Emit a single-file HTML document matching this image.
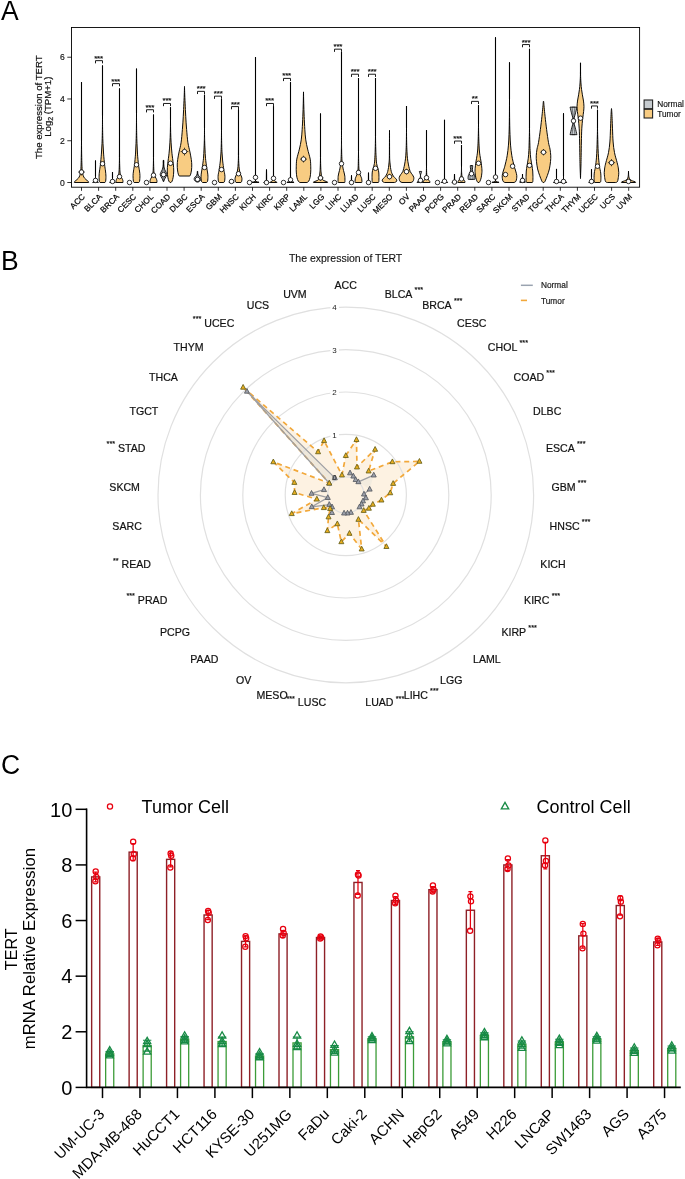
<!DOCTYPE html>
<html lang="en">
<head>
<meta charset="utf-8">
<title>TERT expression figure</title>
<style>
html,body{margin:0;padding:0;background:#fff;}
body{width:685px;height:1179px;overflow:hidden;font-family:"Liberation Sans",Arial,sans-serif;}
svg{display:block;}
svg text{font-family:"Liberation Sans",Arial,sans-serif;}
</style>
</head>
<body>
<svg width="685" height="1179" viewBox="0 0 685 1179">
<rect x="0" y="0" width="685" height="1179" fill="#ffffff"/>
<g id="panelA">
<text transform="translate(0.9 20) scale(0.94 1)" font-size="28.2" fill="#000">A</text>
<path d="M88.6 182.5C88.58 182.37 88.76 182 88.5 181.66C88.24 181.33 87.6 180.95 87 180.41C86.4 179.88 85.32 179.06 84.72 178.32C84.13 177.59 83.64 176.82 83.28 175.82C82.91 174.82 82.65 173.5 82.44 172.06C82.24 170.62 82.11 169.18 82 166.84C81.88 164.5 81.8 161.62 81.72 157.44C81.64 153.27 81.53 146.75 81.5 140.74C81.47 134.73 81.5 129.21 81.5 119.86C81.5 110.51 81.5 88.29 81.5 82.28L81.5 82.28C81.5 88.29 81.5 110.51 81.5 119.86C81.5 129.21 81.53 134.73 81.5 140.74C81.47 146.75 81.36 153.27 81.28 157.44C81.2 161.62 81.12 164.5 81 166.84C80.89 169.18 80.76 170.62 80.56 172.06C80.35 173.5 80.09 174.82 79.72 175.82C79.36 176.82 78.87 177.59 78.28 178.32C77.68 179.06 76.6 179.88 76 180.41C75.4 180.95 74.76 181.33 74.5 181.66C74.24 182 74.42 182.37 74.4 182.5Z" fill="#F8CC82" stroke="#000" stroke-width="0.95" stroke-linejoin="round"/>
<path d="M81.5 82.28V140.74" stroke="#000" stroke-width="1.1" fill="none"/>
<path d="M78.1 172.06H84.9M81.5 168.66V175.46" stroke="#000" stroke-width="0.7" fill="none"/>
<circle cx="81.5" cy="172.06" r="2.25" fill="#fff" stroke="#000" stroke-width="0.8"/>
<path d="M98.39 182.5C98.32 182.4 98.26 182.21 97.94 181.87C97.62 181.54 96.74 180.91 96.39 180.41C96.03 179.91 95.86 179.41 95.72 178.74C95.58 178.07 95.53 179.14 95.5 176.24C95.47 173.33 95.5 163.08 95.5 160.58L95.5 160.58C95.5 163.08 95.53 173.33 95.5 176.24C95.47 179.14 95.42 178.07 95.28 178.74C95.14 179.41 94.97 179.91 94.61 180.41C94.26 180.91 93.38 181.54 93.06 181.87C92.74 182.21 92.68 182.4 92.61 182.5Z" fill="#fff" stroke="#000" stroke-width="0.85" stroke-linejoin="round"/>
<path d="M95.5 160.58V176.24" stroke="#000" stroke-width="1.1" fill="none"/>
<path d="M104.94 182.5C105.06 182.27 105.51 182.04 105.67 181.04C105.83 180.04 105.97 177.84 105.94 176.24C105.92 174.63 105.71 172.85 105.5 171.02C105.29 169.18 104.91 167.46 104.61 164.75C104.31 162.05 103.87 157.48 103.61 154.1C103.35 150.73 103.15 147.14 103 143.66C102.84 140.19 102.74 136.86 102.66 132.39C102.58 127.91 102.53 126.37 102.5 115.68C102.47 104.99 102.5 73.59 102.5 65.57L102.5 65.57C102.5 73.59 102.53 104.99 102.5 115.68C102.47 126.37 102.42 127.91 102.34 132.39C102.26 136.86 102.16 140.19 102 143.66C101.85 147.14 101.65 150.73 101.39 154.1C101.13 157.48 100.69 162.05 100.39 164.75C100.09 167.46 99.71 169.18 99.5 171.02C99.29 172.85 99.08 174.63 99.06 176.24C99.03 177.84 99.17 180.04 99.33 181.04C99.49 182.04 99.94 182.27 100.06 182.5Z" fill="#F8CC82" stroke="#000" stroke-width="0.95" stroke-linejoin="round"/>
<path d="M102.5 65.57V115.68" stroke="#000" stroke-width="1.1" fill="none"/>
<circle cx="95.5" cy="180.41" r="2.25" fill="#fff" stroke="#000" stroke-width="0.8"/>
<circle cx="102.5" cy="163.71" r="2.25" fill="#fff" stroke="#000" stroke-width="0.8"/>
<path d="M95.5 63.35V60.65H102.5V63.35" fill="none" stroke="#1a1a1a" stroke-width="1"/>
<text x="98.5" y="60.65" font-size="8" text-anchor="middle" fill="#111" stroke="#111" stroke-width="0.2" letter-spacing="-0.2">***</text>
<path d="M115.39 182.5C115.3 182.4 115.21 182.14 114.83 181.87C114.46 181.61 113.42 181.4 113.05 180.83C112.68 180.26 112.59 179.73 112.5 178.32C112.41 176.92 112.5 173.06 112.5 172.06L112.5 172.06C112.5 173.06 112.59 176.92 112.5 178.32C112.41 179.73 112.32 180.26 111.95 180.83C111.58 181.4 110.54 181.61 110.17 181.87C109.79 182.14 109.7 182.4 109.61 182.5Z" fill="#fff" stroke="#000" stroke-width="0.85" stroke-linejoin="round"/>
<path d="M112.5 172.06V178.32" stroke="#000" stroke-width="1.1" fill="none"/>
<path d="M122.94 182.5C122.93 182.17 123.05 181.08 122.89 180.41C122.73 179.74 122.29 178.99 121.94 178.32C121.6 177.66 121.01 177.07 120.72 176.24C120.43 175.4 120.26 174.44 120.11 173.1C119.96 171.77 119.86 170.39 119.77 167.88C119.68 165.38 119.59 162.46 119.55 157.44C119.51 152.43 119.51 147.59 119.5 136.56C119.49 125.54 119.5 96.22 119.5 88.54L119.5 88.54C119.5 96.22 119.51 125.54 119.5 136.56C119.49 147.59 119.49 152.43 119.45 157.44C119.41 162.46 119.32 165.38 119.23 167.88C119.14 170.39 119.04 171.77 118.89 173.1C118.74 174.44 118.57 175.4 118.28 176.24C117.99 177.07 117.4 177.66 117.06 178.32C116.71 178.99 116.27 179.74 116.11 180.41C115.95 181.08 116.07 182.17 116.06 182.5Z" fill="#F8CC82" stroke="#000" stroke-width="0.95" stroke-linejoin="round"/>
<path d="M119.5 88.54V157.44" stroke="#000" stroke-width="1.1" fill="none"/>
<circle cx="112.5" cy="181.46" r="2.25" fill="#fff" stroke="#000" stroke-width="0.8"/>
<circle cx="119.5" cy="176.65" r="2.25" fill="#fff" stroke="#000" stroke-width="0.8"/>
<path d="M112.5 86.32V83.62H119.5V86.32" fill="none" stroke="#1a1a1a" stroke-width="1"/>
<text x="115.6" y="83.62" font-size="8" text-anchor="middle" fill="#111" stroke="#111" stroke-width="0.2" letter-spacing="-0.2">***</text>
<path d="M138.83 182.5C138.96 182.27 139.43 182.14 139.61 181.04C139.79 179.94 139.96 177.21 139.94 175.61C139.93 174.01 139.73 172.75 139.5 171.02C139.27 169.28 138.82 167.46 138.5 164.75C138.18 162.05 137.74 157.48 137.5 154.1C137.26 150.73 137.13 147.14 137 143.66C136.86 140.19 136.74 137.2 136.66 132.39C136.58 127.58 136.53 123.79 136.5 113.6C136.47 103.41 136.5 75.89 136.5 68.7L136.5 68.7C136.5 75.89 136.53 103.41 136.5 113.6C136.47 123.79 136.42 127.58 136.34 132.39C136.26 137.2 136.14 140.19 136 143.66C135.87 147.14 135.74 150.73 135.5 154.1C135.26 157.48 134.82 162.05 134.5 164.75C134.18 167.46 133.73 169.28 133.5 171.02C133.27 172.75 133.07 174.01 133.06 175.61C133.04 177.21 133.21 179.94 133.39 181.04C133.57 182.14 134.04 182.27 134.17 182.5Z" fill="#F8CC82" stroke="#000" stroke-width="0.95" stroke-linejoin="round"/>
<path d="M136.5 68.7V113.6" stroke="#000" stroke-width="1.1" fill="none"/>
<circle cx="129.5" cy="182.5" r="2.25" fill="#fff" stroke="#000" stroke-width="0.8"/>
<circle cx="136.5" cy="164.75" r="2.25" fill="#fff" stroke="#000" stroke-width="0.8"/>
<path d="M156.94 182.5C156.93 182.17 157.03 181.08 156.89 180.41C156.75 179.74 156.38 178.99 156.05 178.32C155.72 177.66 155.13 176.97 154.83 176.24C154.53 175.5 154.33 174.9 154.16 173.73C153.99 172.56 153.88 171.53 153.77 168.93C153.67 166.32 153.56 161.95 153.52 157.44C153.47 152.93 153.5 147.59 153.5 140.74C153.5 133.89 153.5 118.82 153.5 114.64L153.5 114.64C153.5 118.82 153.5 133.89 153.5 140.74C153.5 147.59 153.53 152.93 153.48 157.44C153.44 161.95 153.33 166.32 153.23 168.93C153.12 171.53 153.01 172.56 152.84 173.73C152.67 174.9 152.47 175.5 152.17 176.24C151.87 176.97 151.28 177.66 150.95 178.32C150.62 178.99 150.25 179.74 150.11 180.41C149.97 181.08 150.07 182.17 150.06 182.5Z" fill="#F8CC82" stroke="#000" stroke-width="0.95" stroke-linejoin="round"/>
<path d="M153.5 114.64V157.44" stroke="#000" stroke-width="1.1" fill="none"/>
<circle cx="146.5" cy="182.5" r="2.25" fill="#fff" stroke="#000" stroke-width="0.8"/>
<circle cx="153.5" cy="175.19" r="2.25" fill="#fff" stroke="#000" stroke-width="0.8"/>
<path d="M146.5 112.42V109.72H153.5V112.42" fill="none" stroke="#1a1a1a" stroke-width="1"/>
<text x="149.8" y="109.72" font-size="8" text-anchor="middle" fill="#111" stroke="#111" stroke-width="0.2" letter-spacing="-0.2">***</text>
<path d="M163.5 181.46C163.75 180.95 164.52 179.39 165.05 178.32C165.59 177.25 166.69 175.78 166.83 174.77C166.97 173.77 166.28 172.9 165.94 172.06C165.6 171.22 165.06 170.39 164.72 169.55C164.38 168.72 164.02 167.78 163.83 166.84C163.63 165.9 163.55 164.74 163.5 163.71C163.45 162.67 163.5 160.9 163.5 160.37L163.5 160.37C163.5 160.9 163.55 162.67 163.5 163.71C163.45 164.74 163.37 165.9 163.17 166.84C162.98 167.78 162.62 168.72 162.28 169.55C161.94 170.39 161.4 171.22 161.06 172.06C160.72 172.9 160.03 173.77 160.17 174.77C160.31 175.78 161.41 177.25 161.95 178.32C162.48 179.39 163.25 180.95 163.5 181.46Z" fill="#C6CBCF" stroke="#000" stroke-width="0.85" stroke-linejoin="round"/>
<path d="M163.5 160.37V163.71" stroke="#000" stroke-width="1.1" fill="none"/>
<path d="M164 181.46C164 180.95 163.9 179.39 164.05 178.32C164.2 177.25 164.87 175.78 164.94 174.77C165.01 173.77 164.65 172.9 164.5 172.06C164.34 171.22 164.08 170.39 164 169.55C163.92 168.72 164 167.78 164 166.84C164 165.9 164 164.74 164 163.71C164 162.67 164 160.9 164 160.37L163 160.37C163 160.9 163 162.67 163 163.71C163 164.74 163 165.9 163 166.84C163 167.78 163.08 168.72 163 169.55C162.92 170.39 162.66 171.22 162.5 172.06C162.35 172.9 161.99 173.77 162.06 174.77C162.13 175.78 162.8 177.25 162.95 178.32C163.1 179.39 163 180.95 163 181.46Z" fill="none" stroke="#000" stroke-width="0.45" stroke-linejoin="round"/>
<path d="M170.94 182.5C171.12 182.3 171.7 182.08 172.05 181.25C172.41 180.41 172.9 178.92 173.16 177.28C173.43 175.64 173.7 173.19 173.72 171.02C173.74 168.84 173.56 166.55 173.28 163.71C172.99 160.87 172.29 156.61 171.94 153.27C171.59 149.93 171.31 146.17 171.11 142.83C170.9 139.49 170.76 136.06 170.66 132.39C170.56 128.71 170.53 123.87 170.5 119.86C170.47 115.85 170.5 109.34 170.5 107.33L170.5 107.33C170.5 109.34 170.53 115.85 170.5 119.86C170.47 123.87 170.44 128.71 170.34 132.39C170.24 136.06 170.1 139.49 169.89 142.83C169.69 146.17 169.41 149.93 169.06 153.27C168.71 156.61 168.01 160.87 167.72 163.71C167.44 166.55 167.26 168.84 167.28 171.02C167.3 173.19 167.57 175.64 167.84 177.28C168.1 178.92 168.59 180.41 168.95 181.25C169.3 182.08 169.88 182.3 170.06 182.5Z" fill="#F8CC82" stroke="#000" stroke-width="0.95" stroke-linejoin="round"/>
<path d="M170.5 107.33V119.86" stroke="#000" stroke-width="1.1" fill="none"/>
<circle cx="163.5" cy="174.57" r="2.25" fill="#fff" stroke="#000" stroke-width="0.8"/>
<circle cx="170.5" cy="163.29" r="2.25" fill="#fff" stroke="#000" stroke-width="0.8"/>
<path d="M163.5 106.16V103.46H170.5V106.16" fill="none" stroke="#1a1a1a" stroke-width="1"/>
<text x="166.9" y="103.46" font-size="8" text-anchor="middle" fill="#111" stroke="#111" stroke-width="0.2" letter-spacing="-0.2">***</text>
<path d="M189.8 176.03C189.94 175.73 190.43 175.12 190.7 174.15C190.97 173.18 191.33 171.44 191.5 169.97C191.67 168.5 191.78 166.63 191.75 164.96C191.72 163.29 191.6 161.64 191.3 159.53C191 157.43 190.44 154.48 189.9 151.81C189.36 149.13 188.47 146.4 187.94 142.83C187.42 139.25 186.96 133.71 186.61 129.46C186.25 125.22 185.96 120.52 185.72 116.31C185.48 112.1 185.28 106.93 185.11 103.16C184.94 99.38 184.76 95.39 184.66 92.72C184.56 90.04 184.53 87.45 184.5 86.45L184.5 86.45C184.47 87.45 184.44 90.04 184.34 92.72C184.24 95.39 184.06 99.38 183.89 103.16C183.72 106.93 183.52 112.1 183.28 116.31C183.04 120.52 182.75 125.22 182.39 129.46C182.04 133.71 181.58 139.25 181.06 142.83C180.53 146.4 179.64 149.13 179.1 151.81C178.56 154.48 178 157.43 177.7 159.53C177.4 161.64 177.28 163.29 177.25 164.96C177.22 166.63 177.33 168.5 177.5 169.97C177.67 171.44 178.03 173.18 178.3 174.15C178.57 175.12 179.06 175.73 179.2 176.03Z" fill="#F8CC82" stroke="#000" stroke-width="0.95" stroke-linejoin="round"/>
<path d="M180.6 151.6H188.4M184.5 147.7V155.5" stroke="#000" stroke-width="0.7" fill="none"/>
<circle cx="184.5" cy="151.6" r="2.25" fill="#fff" stroke="#000" stroke-width="0.8"/>
<path d="M198.83 181.87C199.08 181.64 200.07 180.91 200.39 180.41C200.71 179.91 200.9 179.31 200.83 178.74C200.76 178.17 200.33 177.4 199.94 176.86C199.55 176.33 198.76 175.9 198.38 175.4C198.01 174.9 197.75 174.37 197.61 173.73C197.46 173.1 197.52 171.8 197.5 171.43L197.5 171.43C197.48 171.8 197.54 173.1 197.39 173.73C197.25 174.37 196.99 174.9 196.62 175.4C196.24 175.9 195.45 176.33 195.06 176.86C194.67 177.4 194.24 178.17 194.17 178.74C194.1 179.31 194.29 179.91 194.61 180.41C194.93 180.91 195.92 181.64 196.17 181.87Z" fill="#C6CBCF" stroke="#000" stroke-width="0.85" stroke-linejoin="round"/>
<path d="M198 181.87C198.11 181.64 198.57 180.91 198.72 180.41C198.87 179.91 198.98 179.31 198.94 178.74C198.91 178.17 198.65 177.4 198.5 176.86C198.34 176.33 198.08 175.9 198 175.4C197.92 174.9 198 174.37 198 173.73C198 173.1 198 171.8 198 171.43L197 171.43C197 171.8 197 173.1 197 173.73C197 174.37 197.08 174.9 197 175.4C196.92 175.9 196.66 176.33 196.5 176.86C196.35 177.4 196.09 178.17 196.06 178.74C196.02 179.31 196.13 179.91 196.28 180.41C196.43 180.91 196.89 181.64 197 181.87Z" fill="none" stroke="#000" stroke-width="0.45" stroke-linejoin="round"/>
<path d="M206.5 182.5C206.68 182.27 207.38 182.04 207.61 181.04C207.84 180.04 207.96 177.67 207.94 176.24C207.93 174.8 207.69 173.46 207.5 172.06C207.3 170.66 207.04 169.67 206.72 167.47C206.4 165.26 205.77 161.22 205.5 158.28C205.22 155.34 205.13 151.9 205 149.09C204.86 146.29 204.74 144.08 204.66 140.74C204.58 137.4 204.53 135.56 204.5 128.21C204.47 120.86 204.5 100.15 204.5 94.8L204.5 94.8C204.5 100.15 204.53 120.86 204.5 128.21C204.47 135.56 204.42 137.4 204.34 140.74C204.26 144.08 204.14 146.29 204 149.09C203.87 151.9 203.78 155.34 203.5 158.28C203.23 161.22 202.6 165.26 202.28 167.47C201.96 169.67 201.7 170.66 201.5 172.06C201.31 173.46 201.07 174.8 201.06 176.24C201.04 177.67 201.16 180.04 201.39 181.04C201.62 182.04 202.32 182.27 202.5 182.5Z" fill="#F8CC82" stroke="#000" stroke-width="0.95" stroke-linejoin="round"/>
<path d="M204.5 94.8V128.21" stroke="#000" stroke-width="1.1" fill="none"/>
<circle cx="197.5" cy="179.37" r="2.25" fill="#fff" stroke="#000" stroke-width="0.8"/>
<circle cx="204.5" cy="167.47" r="2.25" fill="#fff" stroke="#000" stroke-width="0.8"/>
<path d="M197.5 94.05V91.35H204.5V94.05" fill="none" stroke="#1a1a1a" stroke-width="1"/>
<text x="201.1" y="91.35" font-size="8" text-anchor="middle" fill="#111" stroke="#111" stroke-width="0.2" letter-spacing="-0.2">***</text>
<path d="M223.72 182.5C223.86 182.27 224.41 181.97 224.61 181.04C224.81 180.1 224.96 177.92 224.94 176.65C224.93 175.38 224.68 174.24 224.5 173.1C224.32 171.97 224.12 171.49 223.83 169.55C223.54 167.62 222.95 163.63 222.66 160.99C222.38 158.35 222.2 155.63 222.05 153.06C221.9 150.49 221.81 148.56 221.72 144.92C221.63 141.27 221.53 137.65 221.5 130.3C221.47 122.95 221.5 103.99 221.5 98.98L221.5 98.98C221.5 103.99 221.53 122.95 221.5 130.3C221.47 137.65 221.37 141.27 221.28 144.92C221.19 148.56 221.1 150.49 220.95 153.06C220.8 155.63 220.62 158.35 220.34 160.99C220.05 163.63 219.46 167.62 219.17 169.55C218.88 171.49 218.68 171.97 218.5 173.1C218.32 174.24 218.07 175.38 218.06 176.65C218.04 177.92 218.19 180.1 218.39 181.04C218.59 181.97 219.14 182.27 219.28 182.5Z" fill="#F8CC82" stroke="#000" stroke-width="0.95" stroke-linejoin="round"/>
<path d="M221.5 98.98V130.3" stroke="#000" stroke-width="1.1" fill="none"/>
<circle cx="214.5" cy="182.5" r="2.25" fill="#fff" stroke="#000" stroke-width="0.8"/>
<circle cx="221.5" cy="169.55" r="2.25" fill="#fff" stroke="#000" stroke-width="0.8"/>
<path d="M214.5 98.85V96.15H221.5V98.85" fill="none" stroke="#1a1a1a" stroke-width="1"/>
<text x="218.2" y="96.15" font-size="8" text-anchor="middle" fill="#111" stroke="#111" stroke-width="0.2" letter-spacing="-0.2">***</text>
<path d="M233.94 182.5C233.92 182.37 234.08 182 233.83 181.66C233.58 181.33 232.76 180.81 232.38 180.41C232.01 180.01 231.64 179.36 231.5 179.16L231.5 179.16C231.36 179.36 230.99 180.01 230.62 180.41C230.24 180.81 229.42 181.33 229.17 181.66C228.92 182 229.08 182.37 229.06 182.5Z" fill="#fff" stroke="#000" stroke-width="0.85" stroke-linejoin="round"/>
<path d="M240.94 182.5C241.07 182.3 241.56 181.92 241.72 181.25C241.88 180.58 242.03 179.19 241.94 178.32C241.85 177.46 241.45 176.59 241.16 175.82C240.88 175.05 240.47 174.62 240.16 173.52C239.86 172.42 239.49 170.5 239.27 168.93C239.06 167.36 238.94 165.88 238.83 163.71C238.71 161.54 238.6 159.7 238.55 155.36C238.5 151.01 238.51 143.91 238.5 136.56C238.49 129.21 238.5 113.76 238.5 109.42L238.5 109.42C238.5 113.76 238.51 129.21 238.5 136.56C238.49 143.91 238.5 151.01 238.45 155.36C238.4 159.7 238.29 161.54 238.17 163.71C238.06 165.88 237.94 167.36 237.73 168.93C237.51 170.5 237.14 172.42 236.84 173.52C236.53 174.62 236.12 175.05 235.84 175.82C235.55 176.59 235.15 177.46 235.06 178.32C234.97 179.19 235.12 180.58 235.28 181.25C235.44 181.92 235.93 182.3 236.06 182.5Z" fill="#F8CC82" stroke="#000" stroke-width="0.95" stroke-linejoin="round"/>
<path d="M238.5 109.42V155.36" stroke="#000" stroke-width="1.1" fill="none"/>
<circle cx="231.5" cy="181.46" r="2.25" fill="#fff" stroke="#000" stroke-width="0.8"/>
<circle cx="238.5" cy="173.73" r="2.25" fill="#fff" stroke="#000" stroke-width="0.8"/>
<path d="M231.5 109.29V106.59H238.5V109.29" fill="none" stroke="#1a1a1a" stroke-width="1"/>
<text x="235.3" y="106.59" font-size="8" text-anchor="middle" fill="#111" stroke="#111" stroke-width="0.2" letter-spacing="-0.2">***</text>
<path d="M258.94 182.5C258.91 182.43 259.18 182.25 258.72 182.08C258.26 181.92 256.57 181.89 256.05 181.46C255.54 181.02 255.59 182.54 255.5 179.37C255.41 176.19 255.5 181.16 255.5 161.62C255.5 142.08 255.5 73.92 255.5 57.22L255.5 57.22C255.5 73.92 255.5 142.08 255.5 161.62C255.5 181.16 255.59 176.19 255.5 179.37C255.41 182.54 255.46 181.02 254.95 181.46C254.43 181.89 252.74 181.92 252.28 182.08C251.82 182.25 252.09 182.43 252.06 182.5Z" fill="#F8CC82" stroke="#000" stroke-width="0.95" stroke-linejoin="round"/>
<path d="M255.5 57.22V179.37" stroke="#000" stroke-width="1.1" fill="none"/>
<circle cx="249.5" cy="182.5" r="2.25" fill="#fff" stroke="#000" stroke-width="0.8"/>
<circle cx="255.5" cy="177.38" r="2.25" fill="#fff" stroke="#000" stroke-width="0.8"/>
<path d="M269.39 182.5C269.21 182.43 268.74 182.28 268.27 182.08C267.81 181.88 266.78 183.25 266.5 181.25C266.22 179.24 266.5 171.43 266.5 169.55L266.5 169.55C266.5 171.43 266.78 179.24 266.5 181.25C266.22 183.25 265.19 181.88 264.73 182.08C264.26 182.28 263.79 182.43 263.61 182.5Z" fill="#fff" stroke="#000" stroke-width="0.85" stroke-linejoin="round"/>
<path d="M266.5 169.55V181.25" stroke="#000" stroke-width="1.1" fill="none"/>
<path d="M276.83 182.5C276.8 182.42 276.93 182.21 276.61 181.98C276.29 181.74 275.27 181.39 274.83 181.04C274.38 180.69 274.04 180.55 273.83 179.79C273.62 179.02 273.55 179.14 273.5 176.24C273.45 173.33 273.5 172.81 273.5 161.62C273.5 150.43 273.5 115.14 273.5 106.29L273.5 106.29C273.5 115.14 273.5 150.43 273.5 161.62C273.5 172.81 273.55 173.33 273.5 176.24C273.45 179.14 273.38 179.02 273.17 179.79C272.96 180.55 272.62 180.69 272.17 181.04C271.73 181.39 270.71 181.74 270.39 181.98C270.07 182.21 270.2 182.42 270.17 182.5Z" fill="#F8CC82" stroke="#000" stroke-width="0.95" stroke-linejoin="round"/>
<path d="M273.5 106.29V176.24" stroke="#000" stroke-width="1.1" fill="none"/>
<circle cx="266.5" cy="182.5" r="2.25" fill="#fff" stroke="#000" stroke-width="0.8"/>
<circle cx="273.5" cy="178.32" r="2.25" fill="#fff" stroke="#000" stroke-width="0.8"/>
<path d="M266.5 106.16V103.46H273.5V106.16" fill="none" stroke="#1a1a1a" stroke-width="1"/>
<text x="269.5" y="103.46" font-size="8" text-anchor="middle" fill="#111" stroke="#111" stroke-width="0.2" letter-spacing="-0.2">***</text>
<path d="M293.94 182.5C293.91 182.43 294.18 182.25 293.72 182.08C293.26 181.92 291.57 181.89 291.05 181.46C290.54 181.02 290.59 182.54 290.5 179.37C290.41 176.19 290.5 177.15 290.5 161.62C290.5 146.09 290.5 94.97 290.5 82.28L290.5 82.28C290.5 94.97 290.5 146.09 290.5 161.62C290.5 177.15 290.59 176.19 290.5 179.37C290.41 182.54 290.46 181.02 289.95 181.46C289.43 181.89 287.74 181.92 287.28 182.08C286.82 182.25 287.09 182.43 287.06 182.5Z" fill="#F8CC82" stroke="#000" stroke-width="0.95" stroke-linejoin="round"/>
<path d="M290.5 82.28V179.37" stroke="#000" stroke-width="1.1" fill="none"/>
<circle cx="283.5" cy="182.5" r="2.25" fill="#fff" stroke="#000" stroke-width="0.8"/>
<circle cx="290.5" cy="179.79" r="2.25" fill="#fff" stroke="#000" stroke-width="0.8"/>
<path d="M283.5 81.1V78.4H290.5V81.1" fill="none" stroke="#1a1a1a" stroke-width="1"/>
<text x="286.6" y="78.4" font-size="8" text-anchor="middle" fill="#111" stroke="#111" stroke-width="0.2" letter-spacing="-0.2">***</text>
<path d="M306.94 182.5C307.22 182.3 308.19 182.08 308.7 181.25C309.2 180.41 309.78 178.75 310.1 177.28C310.42 175.81 310.6 173.73 310.7 172.06C310.8 170.39 310.83 168.91 310.75 166.84C310.67 164.77 310.7 161.95 310.2 159.11C309.7 156.27 308.31 152.17 307.6 149.09C306.89 146.02 306.22 143.05 305.78 139.9C305.33 136.76 305.09 133.24 304.83 129.46C304.57 125.69 304.34 120.52 304.16 116.31C303.98 112.1 303.82 107.06 303.72 103.16C303.61 99.25 303.53 93.68 303.5 91.88L303.5 91.88C303.47 93.68 303.39 99.25 303.28 103.16C303.18 107.06 303.02 112.1 302.84 116.31C302.66 120.52 302.43 125.69 302.17 129.46C301.91 133.24 301.67 136.76 301.22 139.9C300.78 143.05 300.11 146.02 299.4 149.09C298.69 152.17 297.3 156.27 296.8 159.11C296.3 161.95 296.33 164.77 296.25 166.84C296.17 168.91 296.2 170.39 296.3 172.06C296.4 173.73 296.58 175.81 296.9 177.28C297.22 178.75 297.8 180.41 298.3 181.25C298.81 182.08 299.78 182.3 300.06 182.5Z" fill="#F8CC82" stroke="#000" stroke-width="0.95" stroke-linejoin="round"/>
<path d="M300.1 159.11H306.9M303.5 155.71V162.51" stroke="#000" stroke-width="0.7" fill="none"/>
<circle cx="303.5" cy="159.11" r="2.25" fill="#fff" stroke="#000" stroke-width="0.8"/>
<path d="M327.5 182.5C327.48 182.4 327.8 182.11 327.4 181.87C327 181.64 325.73 181.34 325 181.04C324.27 180.74 323.34 180.43 322.83 179.99C322.32 179.56 322.06 179.06 321.83 178.32C321.6 177.59 321.51 176.4 321.38 175.4C321.26 174.4 321.15 173.26 321.05 172.06C320.95 170.86 320.86 170.22 320.77 167.88C320.69 165.55 320.56 162.46 320.52 157.44C320.47 152.43 320.5 143.58 320.5 136.56C320.5 129.55 320.5 117.27 320.5 113.6L320.5 113.6C320.5 117.27 320.5 129.55 320.5 136.56C320.5 143.58 320.53 152.43 320.48 157.44C320.44 162.46 320.31 165.55 320.23 167.88C320.14 170.22 320.05 170.86 319.95 172.06C319.85 173.26 319.74 174.4 319.62 175.4C319.49 176.4 319.4 177.59 319.17 178.32C318.94 179.06 318.68 179.56 318.17 179.99C317.66 180.43 316.73 180.74 316 181.04C315.27 181.34 314 181.64 313.6 181.87C313.2 182.11 313.52 182.4 313.5 182.5Z" fill="#F8CC82" stroke="#000" stroke-width="0.95" stroke-linejoin="round"/>
<path d="M320.5 113.6V157.44" stroke="#000" stroke-width="1.1" fill="none"/>
<path d="M317.5 177.91H323.5M320.5 174.91V180.91" stroke="#000" stroke-width="0.7" fill="none"/>
<circle cx="320.5" cy="177.91" r="2.25" fill="#fff" stroke="#000" stroke-width="0.8"/>
<path d="M344.72 182.5C344.76 182.33 344.93 182.46 344.94 181.46C344.96 180.45 344.99 177.74 344.83 176.24C344.67 174.73 344.21 173.23 343.94 172.06C343.68 170.89 343.43 170.26 343.16 168.93C342.9 167.59 342.48 165.41 342.27 163.71C342.07 162 341.99 160.62 341.88 158.28C341.78 155.94 341.67 153.57 341.61 149.09C341.54 144.62 341.52 145.83 341.5 130.3C341.48 114.77 341.5 64.53 341.5 52L341.5 52C341.5 64.53 341.52 114.77 341.5 130.3C341.48 145.83 341.46 144.62 341.39 149.09C341.33 153.57 341.22 155.94 341.12 158.28C341.01 160.62 340.93 162 340.73 163.71C340.52 165.41 340.1 167.59 339.84 168.93C339.57 170.26 339.32 170.89 339.06 172.06C338.79 173.23 338.33 174.73 338.17 176.24C338.01 177.74 338.04 180.45 338.06 181.46C338.07 182.46 338.24 182.33 338.28 182.5Z" fill="#F8CC82" stroke="#000" stroke-width="0.95" stroke-linejoin="round"/>
<path d="M341.5 52V130.3" stroke="#000" stroke-width="1.1" fill="none"/>
<circle cx="334.5" cy="182.5" r="2.25" fill="#fff" stroke="#000" stroke-width="0.8"/>
<circle cx="341.5" cy="163.71" r="2.25" fill="#fff" stroke="#000" stroke-width="0.8"/>
<path d="M334.5 51.87V49.17H341.5V51.87" fill="none" stroke="#1a1a1a" stroke-width="1"/>
<text x="337.9" y="49.17" font-size="8" text-anchor="middle" fill="#111" stroke="#111" stroke-width="0.2" letter-spacing="-0.2">***</text>
<path d="M353.83 182.5C353.65 182.43 353.09 182.28 352.72 182.08C352.35 181.88 351.69 182.32 351.5 181.25C351.31 180.18 351.5 176.34 351.5 175.4L351.5 175.4C351.5 176.34 351.69 180.18 351.5 181.25C351.31 182.32 350.65 181.88 350.28 182.08C349.91 182.28 349.35 182.43 349.17 182.5Z" fill="#fff" stroke="#000" stroke-width="0.85" stroke-linejoin="round"/>
<path d="M351.5 175.4V181.25" stroke="#000" stroke-width="1.1" fill="none"/>
<path d="M361.72 182.5C361.76 182.33 361.96 182.12 361.94 181.46C361.93 180.79 361.81 179.16 361.61 178.32C361.41 177.49 361 176.9 360.72 176.24C360.44 175.57 360.06 174.82 359.83 174.15C359.6 173.48 359.42 172.9 359.27 172.06C359.13 171.22 359.03 170.26 358.94 168.93C358.85 167.59 358.79 166.55 358.72 163.71C358.65 160.87 358.53 156.53 358.5 151.18C358.47 145.83 358.5 141.99 358.5 130.3C358.5 118.61 358.5 86.45 358.5 78.1L358.5 78.1C358.5 86.45 358.5 118.61 358.5 130.3C358.5 141.99 358.53 145.83 358.5 151.18C358.47 156.53 358.35 160.87 358.28 163.71C358.21 166.55 358.15 167.59 358.06 168.93C357.97 170.26 357.87 171.22 357.73 172.06C357.58 172.9 357.4 173.48 357.17 174.15C356.94 174.82 356.56 175.57 356.28 176.24C356 176.9 355.59 177.49 355.39 178.32C355.19 179.16 355.07 180.79 355.06 181.46C355.04 182.12 355.24 182.33 355.28 182.5Z" fill="#F8CC82" stroke="#000" stroke-width="0.95" stroke-linejoin="round"/>
<path d="M358.5 78.1V151.18" stroke="#000" stroke-width="1.1" fill="none"/>
<circle cx="351.5" cy="182.5" r="2.25" fill="#fff" stroke="#000" stroke-width="0.8"/>
<circle cx="358.5" cy="172.48" r="2.25" fill="#fff" stroke="#000" stroke-width="0.8"/>
<path d="M351.5 76.92V74.22H358.5V76.92" fill="none" stroke="#1a1a1a" stroke-width="1"/>
<text x="355" y="74.22" font-size="8" text-anchor="middle" fill="#111" stroke="#111" stroke-width="0.2" letter-spacing="-0.2">***</text>
<path d="M370.83 182.5C370.65 182.43 370.09 182.28 369.72 182.08C369.35 181.88 368.69 182.75 368.5 181.25C368.31 179.74 368.5 174.06 368.5 172.69L368.5 172.69C368.5 174.06 368.69 179.74 368.5 181.25C368.31 182.75 367.65 181.88 367.28 182.08C366.91 182.28 366.35 182.43 366.17 182.5Z" fill="#fff" stroke="#000" stroke-width="0.85" stroke-linejoin="round"/>
<path d="M368.5 172.69V181.25" stroke="#000" stroke-width="1.1" fill="none"/>
<path d="M378.39 182.5C378.46 182.33 378.74 182.46 378.83 181.46C378.92 180.45 378.96 177.74 378.94 176.24C378.93 174.73 378.88 173.3 378.72 172.06C378.56 170.82 378.28 169.85 377.94 168.51C377.6 167.17 376.91 165.75 376.61 163.71C376.3 161.67 376.18 158.11 376.05 155.77C375.92 153.44 375.86 152.17 375.77 149.09C375.69 146.02 375.56 141.24 375.52 136.56C375.47 131.89 375.5 129.21 375.5 119.86C375.5 110.51 375.5 84.78 375.5 78.1L375.5 78.1C375.5 84.78 375.5 110.51 375.5 119.86C375.5 129.21 375.53 131.89 375.48 136.56C375.44 141.24 375.31 146.02 375.23 149.09C375.14 152.17 375.08 153.44 374.95 155.77C374.82 158.11 374.7 161.67 374.39 163.71C374.09 165.75 373.4 167.17 373.06 168.51C372.72 169.85 372.44 170.82 372.28 172.06C372.12 173.3 372.07 174.73 372.06 176.24C372.04 177.74 372.08 180.45 372.17 181.46C372.26 182.46 372.54 182.33 372.61 182.5Z" fill="#F8CC82" stroke="#000" stroke-width="0.95" stroke-linejoin="round"/>
<path d="M375.5 78.1V136.56" stroke="#000" stroke-width="1.1" fill="none"/>
<circle cx="368.5" cy="182.5" r="2.25" fill="#fff" stroke="#000" stroke-width="0.8"/>
<circle cx="375.5" cy="168.3" r="2.25" fill="#fff" stroke="#000" stroke-width="0.8"/>
<path d="M368.5 76.92V74.22H375.5V76.92" fill="none" stroke="#1a1a1a" stroke-width="1"/>
<text x="372.1" y="74.22" font-size="8" text-anchor="middle" fill="#111" stroke="#111" stroke-width="0.2" letter-spacing="-0.2">***</text>
<path d="M394.5 182.5C394.79 182.37 395.94 182.07 396.3 181.66C396.66 181.26 396.88 180.53 396.75 179.99C396.62 179.46 396.04 178.93 395.5 178.32C394.96 177.72 393.94 176.97 393.39 176.24C392.84 175.5 392.39 174.5 392.05 173.73C391.72 172.96 391.52 172.44 391.27 171.43C391.03 170.43 390.71 168.94 390.5 167.47C390.28 166 390.08 164.18 389.94 162.25C389.8 160.31 389.68 160.47 389.61 155.36C389.54 150.24 389.52 134.31 389.5 130.3L389.5 130.3C389.48 134.31 389.46 150.24 389.39 155.36C389.32 160.47 389.2 160.31 389.06 162.25C388.92 164.18 388.72 166 388.5 167.47C388.29 168.94 387.97 170.43 387.73 171.43C387.48 172.44 387.28 172.96 386.95 173.73C386.61 174.5 386.16 175.5 385.61 176.24C385.06 176.97 384.04 177.72 383.5 178.32C382.96 178.93 382.38 179.46 382.25 179.99C382.12 180.53 382.34 181.26 382.7 181.66C383.06 182.07 384.21 182.37 384.5 182.5Z" fill="#F8CC82" stroke="#000" stroke-width="0.95" stroke-linejoin="round"/>
<path d="M386.7 176.65H392.3M389.5 173.85V179.45" stroke="#000" stroke-width="0.7" fill="none"/>
<circle cx="389.5" cy="176.65" r="2.25" fill="#fff" stroke="#000" stroke-width="0.8"/>
<path d="M411 182.5C411.32 182.33 412.57 181.96 413 181.46C413.43 180.95 413.58 180.04 413.7 179.37C413.82 178.7 413.97 178.05 413.75 177.28C413.53 176.51 412.87 175.5 412.3 174.57C411.73 173.63 410.77 172.97 410.17 171.43C409.56 169.9 408.93 167.07 408.5 164.96C408.06 162.86 407.68 160.38 407.44 158.28C407.2 156.17 407.12 154.28 407 151.81C406.87 149.33 406.74 146.6 406.66 142.83C406.58 139.05 406.53 134.09 406.5 128.21C406.47 122.33 406.5 109.62 406.5 106.08L406.5 106.08C406.5 109.62 406.53 122.33 406.5 128.21C406.47 134.09 406.42 139.05 406.34 142.83C406.26 146.6 406.13 149.33 406 151.81C405.88 154.28 405.8 156.17 405.56 158.28C405.32 160.38 404.94 162.86 404.5 164.96C404.07 167.07 403.44 169.9 402.83 171.43C402.23 172.97 401.27 173.63 400.7 174.57C400.13 175.5 399.47 176.51 399.25 177.28C399.03 178.05 399.18 178.7 399.3 179.37C399.42 180.04 399.57 180.95 400 181.46C400.43 181.96 401.68 182.33 402 182.5Z" fill="#F8CC82" stroke="#000" stroke-width="0.95" stroke-linejoin="round"/>
<path d="M406.5 106.08V128.21" stroke="#000" stroke-width="1.1" fill="none"/>
<path d="M403.7 171.64H409.3M406.5 168.84V174.44" stroke="#000" stroke-width="0.7" fill="none"/>
<circle cx="406.5" cy="171.64" r="2.25" fill="#fff" stroke="#000" stroke-width="0.8"/>
<path d="M423.94 182.5C423.91 182.43 424.13 182.68 423.72 182.08C423.31 181.48 421.89 179.68 421.38 178.74C420.88 177.81 420.68 176.84 420.55 176.24C420.42 175.63 420.45 175.48 420.55 174.98C420.65 174.48 420.98 173.67 421.16 173.1C421.34 172.54 421.58 171.7 421.66 171.43L419.34 171.43C419.42 171.7 419.66 172.54 419.84 173.1C420.02 173.67 420.35 174.48 420.45 174.98C420.55 175.48 420.58 175.63 420.45 176.24C420.32 176.84 420.12 177.81 419.62 178.74C419.11 179.68 417.69 181.48 417.28 182.08C416.87 182.68 417.09 182.43 417.06 182.5Z" fill="#C6CBCF" stroke="#000" stroke-width="0.85" stroke-linejoin="round"/>
<path d="M429.94 182.5C429.93 182.37 430.05 182 429.89 181.66C429.73 181.33 429.29 180.85 428.94 180.41C428.6 179.98 428.01 179.45 427.72 178.95C427.43 178.45 427.27 178.05 427.11 177.28C426.95 176.51 426.81 175.99 426.72 174.15C426.62 172.31 426.53 169.47 426.5 165.8C426.47 162.12 426.5 156.86 426.5 151.18C426.5 145.5 426.5 133.64 426.5 130.3L426.5 130.3C426.5 133.64 426.5 145.5 426.5 151.18C426.5 156.86 426.53 162.12 426.5 165.8C426.47 169.47 426.38 172.31 426.28 174.15C426.19 175.99 426.05 176.51 425.89 177.28C425.73 178.05 425.57 178.45 425.28 178.95C424.99 179.45 424.4 179.98 424.06 180.41C423.71 180.85 423.27 181.33 423.11 181.66C422.95 182 423.07 182.37 423.06 182.5Z" fill="#F8CC82" stroke="#000" stroke-width="0.95" stroke-linejoin="round"/>
<path d="M426.5 130.3V165.8" stroke="#000" stroke-width="1.1" fill="none"/>
<circle cx="420.5" cy="180.41" r="2.25" fill="#fff" stroke="#000" stroke-width="0.8"/>
<circle cx="426.5" cy="177.7" r="2.25" fill="#fff" stroke="#000" stroke-width="0.8"/>
<path d="M447.72 182.5C447.67 182.45 447.85 182.32 447.39 182.19C446.92 182.05 445.29 182.02 444.83 181.66C444.37 181.31 444.55 181.53 444.5 179.99C444.45 178.46 444.5 181.68 444.5 172.06C444.5 162.44 444.5 128.21 444.5 119.86L444.5 119.86C444.5 128.21 444.5 162.44 444.5 172.06C444.5 181.68 444.55 178.46 444.5 179.99C444.45 181.53 444.63 181.31 444.17 181.66C443.71 182.02 442.08 182.05 441.61 182.19C441.15 182.32 441.33 182.45 441.28 182.5Z" fill="#F8CC82" stroke="#000" stroke-width="0.95" stroke-linejoin="round"/>
<path d="M444.5 119.86V179.99" stroke="#000" stroke-width="1.1" fill="none"/>
<circle cx="437.5" cy="182.5" r="2.25" fill="#fff" stroke="#000" stroke-width="0.8"/>
<circle cx="444.5" cy="181.25" r="2.25" fill="#fff" stroke="#000" stroke-width="0.8"/>
<path d="M457.17 182.5C456.99 182.43 456.48 182.28 456.05 182.08C455.63 181.88 454.75 182.52 454.5 181.25C454.25 179.98 454.5 175.28 454.5 174.15L454.5 174.15C454.5 175.28 454.75 179.98 454.5 181.25C454.25 182.52 453.37 181.88 452.95 182.08C452.52 182.28 452.01 182.43 451.83 182.5Z" fill="#fff" stroke="#000" stroke-width="0.85" stroke-linejoin="round"/>
<path d="M454.5 174.15V181.25" stroke="#000" stroke-width="1.1" fill="none"/>
<path d="M464.94 182.5C464.93 182.33 465.05 181.86 464.89 181.46C464.73 181.06 464.29 180.5 463.94 179.99C463.6 179.49 463.02 178.93 462.72 178.32C462.42 177.72 462.22 177.07 462.05 176.24C461.88 175.4 461.75 174.77 461.66 173.1C461.57 171.43 461.53 170.27 461.5 165.8C461.47 161.32 461.5 148.43 461.5 145.12L461.5 145.12C461.5 148.43 461.53 161.32 461.5 165.8C461.47 170.27 461.43 171.43 461.34 173.1C461.25 174.77 461.12 175.4 460.95 176.24C460.78 177.07 460.58 177.72 460.28 178.32C459.98 178.93 459.4 179.49 459.06 179.99C458.71 180.5 458.27 181.06 458.11 181.46C457.95 181.86 458.07 182.33 458.06 182.5Z" fill="#F8CC82" stroke="#000" stroke-width="0.95" stroke-linejoin="round"/>
<path d="M461.5 145.12V165.8" stroke="#000" stroke-width="1.1" fill="none"/>
<circle cx="454.5" cy="182.08" r="2.25" fill="#fff" stroke="#000" stroke-width="0.8"/>
<circle cx="461.5" cy="178.95" r="2.25" fill="#fff" stroke="#000" stroke-width="0.8"/>
<path d="M454.5 143.74V141.04H461.5V143.74" fill="none" stroke="#1a1a1a" stroke-width="1"/>
<text x="457.6" y="141.04" font-size="8" text-anchor="middle" fill="#111" stroke="#111" stroke-width="0.2" letter-spacing="-0.2">***</text>
<path d="M474.72 179.37C474.76 179.2 474.94 178.89 474.94 178.32C474.94 177.76 474.92 176.55 474.72 175.82C474.53 175.08 474.04 174.4 473.72 173.73C473.4 173.06 472.93 172.31 472.72 171.64C472.51 170.97 472.4 170.22 472.38 169.55C472.37 168.89 472.55 168.1 472.61 167.47C472.66 166.83 472.7 165.89 472.72 165.59L470.28 165.59C470.3 165.89 470.34 166.83 470.39 167.47C470.45 168.1 470.63 168.89 470.62 169.55C470.6 170.22 470.49 170.97 470.28 171.64C470.07 172.31 469.6 173.06 469.28 173.73C468.96 174.4 468.47 175.08 468.28 175.82C468.08 176.55 468.06 177.76 468.06 178.32C468.06 178.89 468.24 179.2 468.28 179.37Z" fill="#C6CBCF" stroke="#000" stroke-width="0.85" stroke-linejoin="round"/>
<path d="M472.89 179.37C472.9 179.2 473 178.89 473 178.32C473 177.76 472.98 176.55 472.89 175.82C472.79 175.08 472.53 174.4 472.38 173.73C472.24 173.06 472.06 172.31 472 171.64C471.93 170.97 472 170.22 472 169.55C472 168.89 472 168.1 472 167.47C472 166.83 472 165.89 472 165.59L471 165.59C471 165.89 471 166.83 471 167.47C471 168.1 471 168.89 471 169.55C471 170.22 471.07 170.97 471 171.64C470.94 172.31 470.76 173.06 470.62 173.73C470.47 174.4 470.21 175.08 470.11 175.82C470.02 176.55 470 177.76 470 178.32C470 178.89 470.1 179.2 470.11 179.37Z" fill="none" stroke="#000" stroke-width="0.45" stroke-linejoin="round"/>
<path d="M479.05 182.5C479.23 182.23 479.81 181.66 480.16 180.83C480.52 179.99 481.01 178.52 481.28 177.28C481.54 176.04 481.73 174.27 481.83 173.1C481.94 171.93 482.03 171.54 481.94 169.97C481.85 168.4 481.65 166 481.28 163.29C480.9 160.58 479.96 155.97 479.61 153.06C479.25 150.15 479.19 147.76 479.05 145.12C478.91 142.49 478.81 139.94 478.72 136.56C478.63 133.19 478.53 129.05 478.5 124.04C478.47 119.02 478.5 108.25 478.5 105.24L478.5 105.24C478.5 108.25 478.53 119.02 478.5 124.04C478.47 129.05 478.37 133.19 478.28 136.56C478.19 139.94 478.09 142.49 477.95 145.12C477.81 147.76 477.75 150.15 477.39 153.06C477.04 155.97 476.1 160.58 475.72 163.29C475.35 166 475.15 168.4 475.06 169.97C474.97 171.54 475.06 171.93 475.17 173.1C475.27 174.27 475.46 176.04 475.72 177.28C475.99 178.52 476.48 179.99 476.84 180.83C477.19 181.66 477.77 182.23 477.95 182.5Z" fill="#F8CC82" stroke="#000" stroke-width="0.95" stroke-linejoin="round"/>
<path d="M478.5 105.24V124.04" stroke="#000" stroke-width="1.1" fill="none"/>
<circle cx="471.5" cy="173.73" r="2.25" fill="#fff" stroke="#000" stroke-width="0.8"/>
<circle cx="478.5" cy="163.29" r="2.25" fill="#fff" stroke="#000" stroke-width="0.8"/>
<path d="M471.5 104.07V101.37H478.5V104.07" fill="none" stroke="#1a1a1a" stroke-width="1"/>
<text x="474.7" y="101.37" font-size="8" text-anchor="middle" fill="#111" stroke="#111" stroke-width="0.2" letter-spacing="-0.2">**</text>
<path d="M498.94 182.5C498.89 182.43 499.06 182.25 498.61 182.08C498.16 181.92 496.6 181.89 496.11 181.46C495.62 181.02 495.65 182.54 495.55 179.37C495.45 176.19 495.51 184.34 495.5 161.62C495.49 138.9 495.5 57.26 495.5 37.38L495.5 37.38C495.5 57.26 495.51 138.9 495.5 161.62C495.49 184.34 495.55 176.19 495.45 179.37C495.35 182.54 495.38 181.02 494.89 181.46C494.4 181.89 492.84 181.92 492.39 182.08C491.94 182.25 492.11 182.43 492.06 182.5Z" fill="#F8CC82" stroke="#000" stroke-width="0.95" stroke-linejoin="round"/>
<path d="M495.5 37.38V179.37" stroke="#000" stroke-width="1.1" fill="none"/>
<circle cx="488.5" cy="182.5" r="2.25" fill="#fff" stroke="#000" stroke-width="0.8"/>
<circle cx="495.5" cy="177.07" r="2.25" fill="#fff" stroke="#000" stroke-width="0.8"/>
<path d="M514 182.5C514.29 182.33 515.38 182.06 515.8 181.46C516.22 180.85 516.45 179.71 516.6 178.74C516.75 177.77 516.89 176.64 516.75 175.4C516.61 174.16 516.11 172.49 515.7 171.02C515.29 169.55 514.82 168.65 514.2 166.21C513.58 163.77 512.41 159.15 511.83 155.77C511.25 152.4 510.85 148.5 510.55 145.12C510.26 141.75 510.14 138.39 510 134.68C509.85 130.98 509.74 127.66 509.66 121.95C509.58 116.24 509.53 108.5 509.5 98.98C509.47 89.46 509.5 68.29 509.5 62.44L509.5 62.44C509.5 68.29 509.53 89.46 509.5 98.98C509.47 108.5 509.42 116.24 509.34 121.95C509.26 127.66 509.15 130.98 509 134.68C508.86 138.39 508.74 141.75 508.45 145.12C508.15 148.5 507.75 152.4 507.17 155.77C506.59 159.15 505.42 163.77 504.8 166.21C504.18 168.65 503.71 169.55 503.3 171.02C502.89 172.49 502.39 174.16 502.25 175.4C502.11 176.64 502.25 177.77 502.4 178.74C502.55 179.71 502.78 180.85 503.2 181.46C503.62 182.06 504.71 182.33 505 182.5Z" fill="#F8CC82" stroke="#000" stroke-width="0.95" stroke-linejoin="round"/>
<path d="M509.5 62.44V98.98" stroke="#000" stroke-width="1.1" fill="none"/>
<circle cx="505.5" cy="174.57" r="2.25" fill="#fff" stroke="#000" stroke-width="0.8"/>
<circle cx="512.6" cy="166.21" r="2.25" fill="#fff" stroke="#000" stroke-width="0.8"/>
<path d="M525.16 182.5C525.15 182.37 525.23 182.07 525.05 181.66C524.88 181.26 524.39 180.53 524.05 179.99C523.71 179.46 523.18 178.86 522.94 178.32C522.7 177.79 522.62 177.32 522.55 176.65C522.48 175.99 522.51 174.55 522.5 174.15L522.5 174.15C522.49 174.55 522.52 175.99 522.45 176.65C522.38 177.32 522.3 177.79 522.06 178.32C521.82 178.86 521.29 179.46 520.95 179.99C520.61 180.53 520.12 181.26 519.95 181.66C519.77 182.07 519.85 182.37 519.84 182.5Z" fill="#C6CBCF" stroke="#000" stroke-width="0.85" stroke-linejoin="round"/>
<path d="M522.5 174.15V176.65" stroke="#000" stroke-width="1.1" fill="none"/>
<path d="M532.28 182.5C532.37 182.33 532.73 182.46 532.83 181.46C532.94 180.45 532.96 177.91 532.94 176.24C532.93 174.57 532.88 172.72 532.72 171.02C532.56 169.31 532.26 167.63 531.94 165.59C531.62 163.55 531.01 160.72 530.72 158.28C530.43 155.84 530.25 152.82 530.11 150.34C529.96 147.87 529.92 146.37 529.83 142.83C529.73 139.29 529.57 133.89 529.52 128.21C529.46 122.53 529.5 120.03 529.5 107.33C529.5 94.64 529.5 58.22 529.5 48.87L529.5 48.87C529.5 58.22 529.5 94.64 529.5 107.33C529.5 120.03 529.54 122.53 529.48 128.21C529.43 133.89 529.27 139.29 529.17 142.83C529.08 146.37 529.04 147.87 528.89 150.34C528.75 152.82 528.57 155.84 528.28 158.28C527.99 160.72 527.38 163.55 527.06 165.59C526.74 167.63 526.44 169.31 526.28 171.02C526.12 172.72 526.07 174.57 526.06 176.24C526.04 177.91 526.06 180.45 526.17 181.46C526.27 182.46 526.63 182.33 526.72 182.5Z" fill="#F8CC82" stroke="#000" stroke-width="0.95" stroke-linejoin="round"/>
<path d="M529.5 48.87V128.21" stroke="#000" stroke-width="1.1" fill="none"/>
<circle cx="522.5" cy="180.41" r="2.25" fill="#fff" stroke="#000" stroke-width="0.8"/>
<circle cx="529.5" cy="165.38" r="2.25" fill="#fff" stroke="#000" stroke-width="0.8"/>
<path d="M522.5 47.27V44.57H529.5V47.27" fill="none" stroke="#1a1a1a" stroke-width="1"/>
<text x="526" y="44.57" font-size="8" text-anchor="middle" fill="#111" stroke="#111" stroke-width="0.2" letter-spacing="-0.2">***</text>
<path d="M543.94 182.5C544.12 182.3 544.5 182.38 545.05 181.25C545.6 180.11 546.69 177.37 547.39 175.4C548.08 173.43 548.9 171.13 549.4 168.93C549.9 166.72 550.28 163.72 550.5 161.62C550.72 159.52 550.83 157.78 550.75 155.77C550.67 153.77 550.36 151.2 550 149.09C549.64 146.99 549.04 145.76 548.5 142.62C547.96 139.48 547.16 133.67 546.61 129.46C546.06 125.26 545.44 119.85 545.05 116.31C544.66 112.77 544.38 109.57 544.16 107.33C543.95 105.09 543.82 103.32 543.72 102.32C543.61 101.32 543.53 101.27 543.5 101.07L543.5 101.07C543.47 101.27 543.39 101.32 543.28 102.32C543.18 103.32 543.05 105.09 542.84 107.33C542.62 109.57 542.34 112.77 541.95 116.31C541.56 119.85 540.94 125.26 540.39 129.46C539.84 133.67 539.04 139.48 538.5 142.62C537.96 145.76 537.36 146.99 537 149.09C536.64 151.2 536.33 153.77 536.25 155.77C536.17 157.78 536.28 159.52 536.5 161.62C536.72 163.72 537.1 166.72 537.6 168.93C538.1 171.13 538.92 173.43 539.61 175.4C540.31 177.37 541.4 180.11 541.95 181.25C542.5 182.38 542.88 182.3 543.06 182.5Z" fill="#F8CC82" stroke="#000" stroke-width="0.95" stroke-linejoin="round"/>
<path d="M540.3 152.22H546.7M543.5 149.02V155.42" stroke="#000" stroke-width="0.7" fill="none"/>
<circle cx="543.5" cy="152.22" r="2.25" fill="#fff" stroke="#000" stroke-width="0.8"/>
<path d="M559.61 182.5C559.43 182.4 558.96 182.17 558.5 181.87C558.03 181.57 557.04 181.19 556.72 180.62C556.4 180.05 556.53 180.19 556.5 178.32C556.47 176.45 556.5 170.43 556.5 168.93L556.5 168.93C556.5 170.43 556.53 176.45 556.5 178.32C556.47 180.19 556.6 180.05 556.28 180.62C555.96 181.19 554.97 181.57 554.5 181.87C554.04 182.17 553.57 182.4 553.39 182.5Z" fill="#fff" stroke="#000" stroke-width="0.85" stroke-linejoin="round"/>
<path d="M556.5 168.93V178.32" stroke="#000" stroke-width="1.1" fill="none"/>
<path d="M566.72 182.5C566.67 182.43 566.76 182.28 566.39 182.08C566.01 181.88 564.83 181.58 564.38 181.25C563.94 180.91 563.75 180.8 563.61 179.99C563.46 179.19 563.52 186.89 563.5 176.24C563.48 165.58 563.5 123.44 563.5 113.39L563.5 113.39C563.5 123.44 563.52 165.58 563.5 176.24C563.48 186.89 563.54 179.19 563.39 179.99C563.25 180.8 563.06 180.91 562.62 181.25C562.17 181.58 560.99 181.88 560.61 182.08C560.24 182.28 560.33 182.43 560.28 182.5Z" fill="#F8CC82" stroke="#000" stroke-width="0.95" stroke-linejoin="round"/>
<path d="M563.5 113.39V176.24" stroke="#000" stroke-width="1.1" fill="none"/>
<circle cx="556.5" cy="181.46" r="2.25" fill="#fff" stroke="#000" stroke-width="0.8"/>
<circle cx="563.5" cy="181.46" r="2.25" fill="#fff" stroke="#000" stroke-width="0.8"/>
<path d="M576.94 134.68C576.68 133.58 575.81 130 575.27 127.79C574.74 125.59 573.61 123.11 573.61 120.9C573.61 118.7 574.74 116.22 575.27 114.01C575.81 111.81 576.68 108.23 576.94 107.12L570.06 107.12C570.32 108.23 571.19 111.81 571.73 114.01C572.26 116.22 573.39 118.7 573.39 120.9C573.39 123.11 572.26 125.59 571.73 127.79C571.19 130 570.32 133.58 570.06 134.68Z" fill="#C6CBCF" stroke="#000" stroke-width="0.85" stroke-linejoin="round"/>
<path d="M575 134.68C574.86 133.58 574.32 130 574.16 127.79C574 125.59 574 123.11 574 120.9C574 118.7 574 116.22 574.16 114.01C574.32 111.81 574.86 108.23 575 107.12L572 107.12C572.14 108.23 572.68 111.81 572.84 114.01C573 116.22 573 118.7 573 120.9C573 123.11 573 125.59 572.84 127.79C572.68 130 572.14 133.58 572 134.68Z" fill="none" stroke="#000" stroke-width="0.45" stroke-linejoin="round"/>
<path d="M580.5 178.53C580.53 177.5 580.64 174.43 580.72 172.06C580.8 169.69 580.92 166.41 581 163.71C581.07 161 581.1 158.62 581.16 155.15C581.22 151.67 581.29 146.2 581.38 141.99C581.48 137.78 581.56 132.61 581.77 128.84C581.99 125.06 582.43 121.17 582.72 118.4C583.01 115.63 583.41 113.41 583.61 111.51C583.81 109.6 583.96 108.17 583.94 106.5C583.93 104.83 583.75 102.94 583.5 101.07C583.25 99.2 582.7 96.67 582.39 94.8C582.07 92.93 581.78 91.28 581.55 89.38C581.32 87.47 581.1 85.37 580.94 82.9C580.78 80.43 580.62 77.13 580.55 73.92C580.48 70.72 580.51 64.63 580.5 62.86L580.5 62.86C580.49 64.63 580.52 70.72 580.45 73.92C580.38 77.13 580.22 80.43 580.06 82.9C579.9 85.37 579.68 87.47 579.45 89.38C579.22 91.28 578.93 92.93 578.61 94.8C578.3 96.67 577.75 99.2 577.5 101.07C577.25 102.94 577.07 104.83 577.06 106.5C577.04 108.17 577.19 109.6 577.39 111.51C577.59 113.41 577.99 115.63 578.28 118.4C578.57 121.17 579.01 125.06 579.23 128.84C579.44 132.61 579.52 137.78 579.62 141.99C579.71 146.2 579.78 151.67 579.84 155.15C579.9 158.62 579.93 161 580 163.71C580.08 166.41 580.2 169.69 580.28 172.06C580.36 174.43 580.47 177.5 580.5 178.53Z" fill="#F8CC82" stroke="#000" stroke-width="0.95" stroke-linejoin="round"/>
<path d="M580.5 62.86V73.92" stroke="#000" stroke-width="1.1" fill="none"/>
<circle cx="573.5" cy="120.9" r="2.25" fill="#fff" stroke="#000" stroke-width="0.8"/>
<circle cx="580.5" cy="118.19" r="2.25" fill="#fff" stroke="#000" stroke-width="0.8"/>
<path d="M594.39 182.5C594.28 182.4 594.09 182.21 593.72 181.87C593.35 181.54 592.41 181.15 592.05 180.41C591.7 179.68 591.59 179.05 591.5 177.28C591.41 175.51 591.5 170.62 591.5 169.35L591.5 169.35C591.5 170.62 591.59 175.51 591.5 177.28C591.41 179.05 591.3 179.68 590.95 180.41C590.59 181.15 589.65 181.54 589.28 181.87C588.91 182.21 588.72 182.4 588.61 182.5Z" fill="#fff" stroke="#000" stroke-width="0.85" stroke-linejoin="round"/>
<path d="M591.5 169.35V177.28" stroke="#000" stroke-width="1.1" fill="none"/>
<path d="M599.94 182.5C600.07 182.33 600.56 182.29 600.72 181.46C600.88 180.62 600.94 178.62 600.94 177.28C600.94 175.94 600.85 174.27 600.72 173.1C600.6 171.93 600.36 171.04 600.16 169.97C599.97 168.9 599.76 168.36 599.5 166.42C599.24 164.48 598.78 160.7 598.55 157.86C598.32 155.02 598.18 151.61 598.05 148.67C597.93 145.73 597.86 142.76 597.77 139.49C597.69 136.21 597.56 132.96 597.52 128.21C597.47 123.47 597.5 112.78 597.5 109.84L597.5 109.84C597.5 112.78 597.53 123.47 597.48 128.21C597.44 132.96 597.31 136.21 597.23 139.49C597.14 142.76 597.07 145.73 596.95 148.67C596.82 151.61 596.68 155.02 596.45 157.86C596.22 160.7 595.76 164.48 595.5 166.42C595.24 168.36 595.03 168.9 594.84 169.97C594.64 171.04 594.4 171.93 594.28 173.1C594.15 174.27 594.06 175.94 594.06 177.28C594.06 178.62 594.12 180.62 594.28 181.46C594.44 182.29 594.93 182.33 595.06 182.5Z" fill="#F8CC82" stroke="#000" stroke-width="0.95" stroke-linejoin="round"/>
<path d="M597.5 109.84V128.21" stroke="#000" stroke-width="1.1" fill="none"/>
<circle cx="591.5" cy="181.46" r="2.25" fill="#fff" stroke="#000" stroke-width="0.8"/>
<circle cx="597.5" cy="166.21" r="2.25" fill="#fff" stroke="#000" stroke-width="0.8"/>
<path d="M591.5 108.66V105.96H597.5V108.66" fill="none" stroke="#1a1a1a" stroke-width="1"/>
<text x="594.4" y="105.96" font-size="8" text-anchor="middle" fill="#111" stroke="#111" stroke-width="0.2" letter-spacing="-0.2">***</text>
<path d="M615.7 182.5C615.99 182.33 617.05 182.46 617.5 181.46C617.95 180.45 618.3 177.71 618.5 176.24C618.7 174.77 618.78 173.61 618.75 172.27C618.72 170.93 618.56 169.45 618.3 167.88C618.04 166.31 617.71 164.89 617.1 162.46C616.49 160.02 615.14 155.92 614.5 152.64C613.86 149.37 613.43 145.8 613.11 141.99C612.79 138.18 612.66 132.61 612.5 128.84C612.34 125.06 612.22 121.17 612.11 118.4C611.99 115.63 611.87 113.08 611.77 111.51C611.68 109.94 611.54 109.05 611.5 108.58L611.5 108.58C611.46 109.05 611.32 109.94 611.23 111.51C611.13 113.08 611.01 115.63 610.89 118.4C610.78 121.17 610.66 125.06 610.5 128.84C610.34 132.61 610.21 138.18 609.89 141.99C609.57 145.8 609.14 149.37 608.5 152.64C607.86 155.92 606.51 160.02 605.9 162.46C605.29 164.89 604.96 166.31 604.7 167.88C604.44 169.45 604.28 170.93 604.25 172.27C604.22 173.61 604.3 174.77 604.5 176.24C604.7 177.71 605.05 180.45 605.5 181.46C605.95 182.46 607.01 182.33 607.3 182.5Z" fill="#F8CC82" stroke="#000" stroke-width="0.95" stroke-linejoin="round"/>
<path d="M607.9 162.66H615.1M611.5 159.06V166.26" stroke="#000" stroke-width="0.7" fill="none"/>
<circle cx="611.5" cy="162.66" r="2.25" fill="#fff" stroke="#000" stroke-width="0.8"/>
<path d="M635.5 182.5C635.47 182.4 635.8 182.14 635.3 181.87C634.8 181.61 633.21 181.2 632.39 180.83C631.57 180.46 630.68 180.04 630.16 179.58C629.65 179.11 629.4 178.61 629.16 177.91C628.92 177.2 628.77 176.29 628.66 175.19C628.56 174.09 628.53 171.68 628.5 171.02L628.5 171.02C628.47 171.68 628.44 174.09 628.34 175.19C628.23 176.29 628.08 177.2 627.84 177.91C627.6 178.61 627.35 179.11 626.84 179.58C626.32 180.04 625.43 180.46 624.61 180.83C623.79 181.2 622.2 181.61 621.7 181.87C621.2 182.14 621.53 182.4 621.5 182.5Z" fill="#F8CC82" stroke="#000" stroke-width="0.95" stroke-linejoin="round"/>
<circle cx="628.5" cy="181.46" r="2.25" fill="#fff" stroke="#000" stroke-width="0.8"/>
<rect x="71.5" y="27.5" width="568.1" height="159.7" fill="none" stroke="#000" stroke-width="0.9"/>
<path d="M67.3 182.5H71.5" stroke="#000" stroke-width="0.8"/>
<text x="64.9" y="185.6" font-size="8.6" text-anchor="end" fill="#111" stroke="#111" stroke-width="0.15">0</text>
<path d="M67.3 140.74H71.5" stroke="#000" stroke-width="0.8"/>
<text x="64.9" y="143.84" font-size="8.6" text-anchor="end" fill="#111" stroke="#111" stroke-width="0.15">2</text>
<path d="M67.3 98.98H71.5" stroke="#000" stroke-width="0.8"/>
<text x="64.9" y="102.08" font-size="8.6" text-anchor="end" fill="#111" stroke="#111" stroke-width="0.15">4</text>
<path d="M67.3 57.22H71.5" stroke="#000" stroke-width="0.8"/>
<text x="64.9" y="60.32" font-size="8.6" text-anchor="end" fill="#111" stroke="#111" stroke-width="0.15">6</text>
<path d="M81.5 187.2V190.8" stroke="#000" stroke-width="0.8"/>
<text transform="translate(85.5 197.2) rotate(-45)" font-size="8.2" text-anchor="end" fill="#000" stroke="#000" stroke-width="0.2">ACC</text>
<path d="M98.6 187.2V190.8" stroke="#000" stroke-width="0.8"/>
<text transform="translate(102.6 197.2) rotate(-45)" font-size="8.2" text-anchor="end" fill="#000" stroke="#000" stroke-width="0.2">BLCA</text>
<path d="M115.7 187.2V190.8" stroke="#000" stroke-width="0.8"/>
<text transform="translate(119.7 197.2) rotate(-45)" font-size="8.2" text-anchor="end" fill="#000" stroke="#000" stroke-width="0.2">BRCA</text>
<path d="M132.8 187.2V190.8" stroke="#000" stroke-width="0.8"/>
<text transform="translate(136.8 197.2) rotate(-45)" font-size="8.2" text-anchor="end" fill="#000" stroke="#000" stroke-width="0.2">CESC</text>
<path d="M149.9 187.2V190.8" stroke="#000" stroke-width="0.8"/>
<text transform="translate(153.9 197.2) rotate(-45)" font-size="8.2" text-anchor="end" fill="#000" stroke="#000" stroke-width="0.2">CHOL</text>
<path d="M167 187.2V190.8" stroke="#000" stroke-width="0.8"/>
<text transform="translate(171 197.2) rotate(-45)" font-size="8.2" text-anchor="end" fill="#000" stroke="#000" stroke-width="0.2">COAD</text>
<path d="M184.1 187.2V190.8" stroke="#000" stroke-width="0.8"/>
<text transform="translate(188.1 197.2) rotate(-45)" font-size="8.2" text-anchor="end" fill="#000" stroke="#000" stroke-width="0.2">DLBC</text>
<path d="M201.2 187.2V190.8" stroke="#000" stroke-width="0.8"/>
<text transform="translate(205.2 197.2) rotate(-45)" font-size="8.2" text-anchor="end" fill="#000" stroke="#000" stroke-width="0.2">ESCA</text>
<path d="M218.3 187.2V190.8" stroke="#000" stroke-width="0.8"/>
<text transform="translate(222.3 197.2) rotate(-45)" font-size="8.2" text-anchor="end" fill="#000" stroke="#000" stroke-width="0.2">GBM</text>
<path d="M235.4 187.2V190.8" stroke="#000" stroke-width="0.8"/>
<text transform="translate(239.4 197.2) rotate(-45)" font-size="8.2" text-anchor="end" fill="#000" stroke="#000" stroke-width="0.2">HNSC</text>
<path d="M252.5 187.2V190.8" stroke="#000" stroke-width="0.8"/>
<text transform="translate(256.5 197.2) rotate(-45)" font-size="8.2" text-anchor="end" fill="#000" stroke="#000" stroke-width="0.2">KICH</text>
<path d="M269.6 187.2V190.8" stroke="#000" stroke-width="0.8"/>
<text transform="translate(273.6 197.2) rotate(-45)" font-size="8.2" text-anchor="end" fill="#000" stroke="#000" stroke-width="0.2">KIRC</text>
<path d="M286.7 187.2V190.8" stroke="#000" stroke-width="0.8"/>
<text transform="translate(290.7 197.2) rotate(-45)" font-size="8.2" text-anchor="end" fill="#000" stroke="#000" stroke-width="0.2">KIRP</text>
<path d="M303.8 187.2V190.8" stroke="#000" stroke-width="0.8"/>
<text transform="translate(307.8 197.2) rotate(-45)" font-size="8.2" text-anchor="end" fill="#000" stroke="#000" stroke-width="0.2">LAML</text>
<path d="M320.9 187.2V190.8" stroke="#000" stroke-width="0.8"/>
<text transform="translate(324.9 197.2) rotate(-45)" font-size="8.2" text-anchor="end" fill="#000" stroke="#000" stroke-width="0.2">LGG</text>
<path d="M338 187.2V190.8" stroke="#000" stroke-width="0.8"/>
<text transform="translate(342 197.2) rotate(-45)" font-size="8.2" text-anchor="end" fill="#000" stroke="#000" stroke-width="0.2">LIHC</text>
<path d="M355.1 187.2V190.8" stroke="#000" stroke-width="0.8"/>
<text transform="translate(359.1 197.2) rotate(-45)" font-size="8.2" text-anchor="end" fill="#000" stroke="#000" stroke-width="0.2">LUAD</text>
<path d="M372.2 187.2V190.8" stroke="#000" stroke-width="0.8"/>
<text transform="translate(376.2 197.2) rotate(-45)" font-size="8.2" text-anchor="end" fill="#000" stroke="#000" stroke-width="0.2">LUSC</text>
<path d="M389.3 187.2V190.8" stroke="#000" stroke-width="0.8"/>
<text transform="translate(393.3 197.2) rotate(-45)" font-size="8.2" text-anchor="end" fill="#000" stroke="#000" stroke-width="0.2">MESO</text>
<path d="M406.4 187.2V190.8" stroke="#000" stroke-width="0.8"/>
<text transform="translate(410.4 197.2) rotate(-45)" font-size="8.2" text-anchor="end" fill="#000" stroke="#000" stroke-width="0.2">OV</text>
<path d="M423.5 187.2V190.8" stroke="#000" stroke-width="0.8"/>
<text transform="translate(427.5 197.2) rotate(-45)" font-size="8.2" text-anchor="end" fill="#000" stroke="#000" stroke-width="0.2">PAAD</text>
<path d="M440.6 187.2V190.8" stroke="#000" stroke-width="0.8"/>
<text transform="translate(444.6 197.2) rotate(-45)" font-size="8.2" text-anchor="end" fill="#000" stroke="#000" stroke-width="0.2">PCPG</text>
<path d="M457.7 187.2V190.8" stroke="#000" stroke-width="0.8"/>
<text transform="translate(461.7 197.2) rotate(-45)" font-size="8.2" text-anchor="end" fill="#000" stroke="#000" stroke-width="0.2">PRAD</text>
<path d="M474.8 187.2V190.8" stroke="#000" stroke-width="0.8"/>
<text transform="translate(478.8 197.2) rotate(-45)" font-size="8.2" text-anchor="end" fill="#000" stroke="#000" stroke-width="0.2">READ</text>
<path d="M491.9 187.2V190.8" stroke="#000" stroke-width="0.8"/>
<text transform="translate(495.9 197.2) rotate(-45)" font-size="8.2" text-anchor="end" fill="#000" stroke="#000" stroke-width="0.2">SARC</text>
<path d="M509 187.2V190.8" stroke="#000" stroke-width="0.8"/>
<text transform="translate(513 197.2) rotate(-45)" font-size="8.2" text-anchor="end" fill="#000" stroke="#000" stroke-width="0.2">SKCM</text>
<path d="M526.1 187.2V190.8" stroke="#000" stroke-width="0.8"/>
<text transform="translate(530.1 197.2) rotate(-45)" font-size="8.2" text-anchor="end" fill="#000" stroke="#000" stroke-width="0.2">STAD</text>
<path d="M543.2 187.2V190.8" stroke="#000" stroke-width="0.8"/>
<text transform="translate(547.2 197.2) rotate(-45)" font-size="8.2" text-anchor="end" fill="#000" stroke="#000" stroke-width="0.2">TGCT</text>
<path d="M560.3 187.2V190.8" stroke="#000" stroke-width="0.8"/>
<text transform="translate(564.3 197.2) rotate(-45)" font-size="8.2" text-anchor="end" fill="#000" stroke="#000" stroke-width="0.2">THCA</text>
<path d="M577.4 187.2V190.8" stroke="#000" stroke-width="0.8"/>
<text transform="translate(581.4 197.2) rotate(-45)" font-size="8.2" text-anchor="end" fill="#000" stroke="#000" stroke-width="0.2">THYM</text>
<path d="M594.5 187.2V190.8" stroke="#000" stroke-width="0.8"/>
<text transform="translate(598.5 197.2) rotate(-45)" font-size="8.2" text-anchor="end" fill="#000" stroke="#000" stroke-width="0.2">UCEC</text>
<path d="M611.6 187.2V190.8" stroke="#000" stroke-width="0.8"/>
<text transform="translate(615.6 197.2) rotate(-45)" font-size="8.2" text-anchor="end" fill="#000" stroke="#000" stroke-width="0.2">UCS</text>
<path d="M628.7 187.2V190.8" stroke="#000" stroke-width="0.8"/>
<text transform="translate(632.7 197.2) rotate(-45)" font-size="8.2" text-anchor="end" fill="#000" stroke="#000" stroke-width="0.2">UVM</text>
<text transform="translate(42.1 107.2) rotate(-90)" font-size="9.6" text-anchor="middle" fill="#111" stroke="#111" stroke-width="0.2">The expression of TERT</text>
<text transform="translate(51.1 106.7) rotate(-90)" font-size="9.6" text-anchor="middle" fill="#111" stroke="#111" stroke-width="0.2">Log<tspan font-size="7" dy="1.9">2</tspan><tspan dy="-1.9"> (TPM+1)</tspan></text>
<rect x="644.1" y="100" width="8.5" height="8.7" fill="#C6CBCF" stroke="#222" stroke-width="1.1"/>
<rect x="644.1" y="109.3" width="8.5" height="8.7" fill="#F8CC82" stroke="#222" stroke-width="1.1"/>
<text x="657.2" y="107.2" font-size="8.3" fill="#111" stroke="#111" stroke-width="0.15">Normal</text>
<text x="657.2" y="117" font-size="8.3" fill="#111" stroke="#111" stroke-width="0.15">Tumor</text>
</g>
<g id="panelB">
<text transform="translate(1.1 270.1) scale(0.94 1)" font-size="28.2" fill="#000">B</text>
<text x="345.6" y="262.3" font-size="10.5" text-anchor="middle" fill="#111" stroke="#111" stroke-width="0.12">The expression of TERT</text>
<path d="M345.8 455.6L356.47 439.66L356.98 467.08L375.12 449.37L368.6 471.09L392.4 461.82L419.44 461.37L393.15 483.51L390.24 492.88L381.44 500.12L372.82 504.35L368.91 508.34L363.72 510.53L386.41 546.63L358.41 519.47L361.68 549.08L349.46 533.38L341.33 541.82L337.33 523.85L327.36 530.77L328.52 516.97L330.12 508.58L323.8 507.7L291.74 513.71L316.87 499.16L294.59 492.56L294.33 482.51L273.32 461.9L329.25 483.21L243.12 387.31L318.08 451.87L324.07 440.71L341.95 475.05Z" fill="#FDF2E2" stroke="none"/>
<path d="M329.25 483.21L246.93 391.3L334.81 477.91Z" fill="#EFE8DB" stroke="none"/>
<path d="M358.36 481.83L373.75 475.1L369.67 489.21Z" fill="#F3ECDF" stroke="none"/>
<circle cx="345.8" cy="495" r="18.2" fill="none" stroke="#E0E0E0" stroke-width="1.2"/>
<circle cx="345.8" cy="495" r="60.6" fill="none" stroke="#E0E0E0" stroke-width="1.2"/>
<circle cx="345.8" cy="495" r="103" fill="none" stroke="#E0E0E0" stroke-width="1.2"/>
<circle cx="345.8" cy="495" r="145.4" fill="none" stroke="#E0E0E0" stroke-width="1.2"/>
<circle cx="345.8" cy="495" r="187.8" fill="none" stroke="#E0E0E0" stroke-width="1.2"/>
<path d="M345.8 455.6L356.47 439.66L356.98 467.08L375.12 449.37L368.6 471.09L392.4 461.82L419.44 461.37L393.15 483.51L390.24 492.88L381.44 500.12L372.82 504.35L368.91 508.34L363.72 510.53L386.41 546.63L358.41 519.47L361.68 549.08L349.46 533.38L341.33 541.82L337.33 523.85L327.36 530.77L328.52 516.97L330.12 508.58L323.8 507.7L291.74 513.71L316.87 499.16L294.59 492.56L294.33 482.51L273.32 461.9L329.25 483.21L243.12 387.31L318.08 451.87L324.07 440.71L341.95 475.05Z" fill="none" stroke="#F2A83A" stroke-width="1.7" stroke-dasharray="5 3.8" stroke-linejoin="round"/>
<path d="M350.05 472.97L353.35 476.14L355.64 479.69L358.36 481.83L373.75 475.1" fill="none" stroke="#9E9FA3" stroke-width="1.25" stroke-linejoin="round"/>
<path d="M369.67 489.21L363.98 494.13L365.91 497.89L363 500.95L361.56 504.1L359.55 506.92" fill="none" stroke="#9E9FA3" stroke-width="1.25" stroke-linejoin="round"/>
<path d="M350.93 512.46L347.53 513.12L344.07 513.12" fill="none" stroke="#9E9FA3" stroke-width="1.25" stroke-linejoin="round"/>
<path d="M331.93 512.64L332.05 506.92L329.3 504.52L311.77 506.78L327.79 497.59L311.53 493.37L323.99 489.71" fill="none" stroke="#9E9FA3" stroke-width="1.25" stroke-linejoin="round"/>
<path d="M329.25 483.21L246.93 391.3L334.81 477.91" fill="none" stroke="#9E9FA3" stroke-width="1.25" stroke-linejoin="round"/>
<path d="M350.05 470.09L352.55 474.84L347.55 474.84Z" fill="#9CA0AB" stroke="#55585F" stroke-width="0.85" stroke-linejoin="round"/>
<path d="M353.35 473.26L355.85 478.01L350.85 478.01Z" fill="#9CA0AB" stroke="#55585F" stroke-width="0.85" stroke-linejoin="round"/>
<path d="M355.64 476.81L358.14 481.56L353.14 481.56Z" fill="#9CA0AB" stroke="#55585F" stroke-width="0.85" stroke-linejoin="round"/>
<path d="M358.36 478.95L360.86 483.7L355.86 483.7Z" fill="#9CA0AB" stroke="#55585F" stroke-width="0.85" stroke-linejoin="round"/>
<path d="M373.75 472.22L376.25 476.97L371.25 476.97Z" fill="#9CA0AB" stroke="#55585F" stroke-width="0.85" stroke-linejoin="round"/>
<path d="M369.67 486.33L372.17 491.08L367.17 491.08Z" fill="#9CA0AB" stroke="#55585F" stroke-width="0.85" stroke-linejoin="round"/>
<path d="M363.98 491.26L366.48 496.01L361.48 496.01Z" fill="#9CA0AB" stroke="#55585F" stroke-width="0.85" stroke-linejoin="round"/>
<path d="M365.91 495.02L368.41 499.77L363.41 499.77Z" fill="#9CA0AB" stroke="#55585F" stroke-width="0.85" stroke-linejoin="round"/>
<path d="M363 498.08L365.5 502.83L360.5 502.83Z" fill="#9CA0AB" stroke="#55585F" stroke-width="0.85" stroke-linejoin="round"/>
<path d="M361.56 501.23L364.06 505.98L359.06 505.98Z" fill="#9CA0AB" stroke="#55585F" stroke-width="0.85" stroke-linejoin="round"/>
<path d="M359.55 504.04L362.05 508.79L357.05 508.79Z" fill="#9CA0AB" stroke="#55585F" stroke-width="0.85" stroke-linejoin="round"/>
<path d="M350.93 509.59L353.43 514.34L348.43 514.34Z" fill="#9CA0AB" stroke="#55585F" stroke-width="0.85" stroke-linejoin="round"/>
<path d="M347.53 510.24L350.03 514.99L345.03 514.99Z" fill="#9CA0AB" stroke="#55585F" stroke-width="0.85" stroke-linejoin="round"/>
<path d="M344.07 510.24L346.57 514.99L341.57 514.99Z" fill="#9CA0AB" stroke="#55585F" stroke-width="0.85" stroke-linejoin="round"/>
<path d="M331.93 509.76L334.43 514.51L329.43 514.51Z" fill="#9CA0AB" stroke="#55585F" stroke-width="0.85" stroke-linejoin="round"/>
<path d="M332.05 504.04L334.55 508.79L329.55 508.79Z" fill="#9CA0AB" stroke="#55585F" stroke-width="0.85" stroke-linejoin="round"/>
<path d="M329.3 501.65L331.8 506.4L326.8 506.4Z" fill="#9CA0AB" stroke="#55585F" stroke-width="0.85" stroke-linejoin="round"/>
<path d="M311.77 503.9L314.27 508.65L309.27 508.65Z" fill="#9CA0AB" stroke="#55585F" stroke-width="0.85" stroke-linejoin="round"/>
<path d="M327.79 494.72L330.29 499.47L325.29 499.47Z" fill="#9CA0AB" stroke="#55585F" stroke-width="0.85" stroke-linejoin="round"/>
<path d="M311.53 490.49L314.03 495.24L309.03 495.24Z" fill="#9CA0AB" stroke="#55585F" stroke-width="0.85" stroke-linejoin="round"/>
<path d="M323.99 486.83L326.49 491.58L321.49 491.58Z" fill="#9CA0AB" stroke="#55585F" stroke-width="0.85" stroke-linejoin="round"/>
<path d="M329.25 480.34L331.75 485.09L326.75 485.09Z" fill="#9CA0AB" stroke="#55585F" stroke-width="0.85" stroke-linejoin="round"/>
<path d="M246.93 388.43L249.43 393.18L244.43 393.18Z" fill="#9CA0AB" stroke="#55585F" stroke-width="0.85" stroke-linejoin="round"/>
<path d="M334.81 475.03L337.31 479.78L332.31 479.78Z" fill="#9CA0AB" stroke="#55585F" stroke-width="0.85" stroke-linejoin="round"/>
<path d="M345.8 452.73L348.3 457.48L343.3 457.48Z" fill="#E9AE1E" stroke="#66601A" stroke-width="0.85" stroke-linejoin="round"/>
<path d="M356.47 436.78L358.97 441.53L353.97 441.53Z" fill="#E9AE1E" stroke="#66601A" stroke-width="0.85" stroke-linejoin="round"/>
<path d="M356.98 464.21L359.48 468.96L354.48 468.96Z" fill="#E9AE1E" stroke="#66601A" stroke-width="0.85" stroke-linejoin="round"/>
<path d="M375.12 446.5L377.62 451.25L372.62 451.25Z" fill="#E9AE1E" stroke="#66601A" stroke-width="0.85" stroke-linejoin="round"/>
<path d="M368.6 468.21L371.1 472.96L366.1 472.96Z" fill="#E9AE1E" stroke="#66601A" stroke-width="0.85" stroke-linejoin="round"/>
<path d="M392.4 458.94L394.9 463.69L389.9 463.69Z" fill="#E9AE1E" stroke="#66601A" stroke-width="0.85" stroke-linejoin="round"/>
<path d="M419.44 458.5L421.94 463.25L416.94 463.25Z" fill="#E9AE1E" stroke="#66601A" stroke-width="0.85" stroke-linejoin="round"/>
<path d="M393.15 480.64L395.65 485.39L390.65 485.39Z" fill="#E9AE1E" stroke="#66601A" stroke-width="0.85" stroke-linejoin="round"/>
<path d="M390.24 490.01L392.74 494.76L387.74 494.76Z" fill="#E9AE1E" stroke="#66601A" stroke-width="0.85" stroke-linejoin="round"/>
<path d="M381.44 497.25L383.94 502L378.94 502Z" fill="#E9AE1E" stroke="#66601A" stroke-width="0.85" stroke-linejoin="round"/>
<path d="M372.82 501.48L375.32 506.23L370.32 506.23Z" fill="#E9AE1E" stroke="#66601A" stroke-width="0.85" stroke-linejoin="round"/>
<path d="M368.91 505.46L371.41 510.21L366.41 510.21Z" fill="#E9AE1E" stroke="#66601A" stroke-width="0.85" stroke-linejoin="round"/>
<path d="M363.72 507.65L366.22 512.4L361.22 512.4Z" fill="#E9AE1E" stroke="#66601A" stroke-width="0.85" stroke-linejoin="round"/>
<path d="M386.41 543.76L388.91 548.51L383.91 548.51Z" fill="#E9AE1E" stroke="#66601A" stroke-width="0.85" stroke-linejoin="round"/>
<path d="M358.41 516.59L360.91 521.34L355.91 521.34Z" fill="#E9AE1E" stroke="#66601A" stroke-width="0.85" stroke-linejoin="round"/>
<path d="M361.68 546.2L364.18 550.95L359.18 550.95Z" fill="#E9AE1E" stroke="#66601A" stroke-width="0.85" stroke-linejoin="round"/>
<path d="M349.46 530.5L351.96 535.25L346.96 535.25Z" fill="#E9AE1E" stroke="#66601A" stroke-width="0.85" stroke-linejoin="round"/>
<path d="M341.33 538.94L343.83 543.69L338.83 543.69Z" fill="#E9AE1E" stroke="#66601A" stroke-width="0.85" stroke-linejoin="round"/>
<path d="M337.33 520.98L339.83 525.73L334.83 525.73Z" fill="#E9AE1E" stroke="#66601A" stroke-width="0.85" stroke-linejoin="round"/>
<path d="M327.36 527.9L329.86 532.65L324.86 532.65Z" fill="#E9AE1E" stroke="#66601A" stroke-width="0.85" stroke-linejoin="round"/>
<path d="M328.52 514.1L331.02 518.85L326.02 518.85Z" fill="#E9AE1E" stroke="#66601A" stroke-width="0.85" stroke-linejoin="round"/>
<path d="M330.12 505.71L332.62 510.46L327.62 510.46Z" fill="#E9AE1E" stroke="#66601A" stroke-width="0.85" stroke-linejoin="round"/>
<path d="M323.8 504.83L326.3 509.58L321.3 509.58Z" fill="#E9AE1E" stroke="#66601A" stroke-width="0.85" stroke-linejoin="round"/>
<path d="M291.74 510.84L294.24 515.59L289.24 515.59Z" fill="#E9AE1E" stroke="#66601A" stroke-width="0.85" stroke-linejoin="round"/>
<path d="M316.87 496.28L319.37 501.03L314.37 501.03Z" fill="#E9AE1E" stroke="#66601A" stroke-width="0.85" stroke-linejoin="round"/>
<path d="M294.59 489.69L297.09 494.44L292.09 494.44Z" fill="#E9AE1E" stroke="#66601A" stroke-width="0.85" stroke-linejoin="round"/>
<path d="M294.33 479.64L296.83 484.39L291.83 484.39Z" fill="#E9AE1E" stroke="#66601A" stroke-width="0.85" stroke-linejoin="round"/>
<path d="M273.32 459.02L275.82 463.77L270.82 463.77Z" fill="#E9AE1E" stroke="#66601A" stroke-width="0.85" stroke-linejoin="round"/>
<path d="M329.25 480.34L331.75 485.09L326.75 485.09Z" fill="#E9AE1E" stroke="#66601A" stroke-width="0.85" stroke-linejoin="round"/>
<path d="M243.12 384.44L245.62 389.19L240.62 389.19Z" fill="#E9AE1E" stroke="#66601A" stroke-width="0.85" stroke-linejoin="round"/>
<path d="M318.08 448.99L320.58 453.74L315.58 453.74Z" fill="#E9AE1E" stroke="#66601A" stroke-width="0.85" stroke-linejoin="round"/>
<path d="M324.07 437.83L326.57 442.58L321.57 442.58Z" fill="#E9AE1E" stroke="#66601A" stroke-width="0.85" stroke-linejoin="round"/>
<path d="M341.95 472.17L344.45 476.92L339.45 476.92Z" fill="#E9AE1E" stroke="#66601A" stroke-width="0.85" stroke-linejoin="round"/>
<text x="336.8" y="479.9" font-size="8" text-anchor="end" fill="#222">0</text>
<rect x="330.4" y="431" width="8.6" height="7" fill="#fff"/>
<text x="336.8" y="437.5" font-size="8" text-anchor="end" fill="#222">1</text>
<rect x="330.4" y="388.6" width="8.6" height="7" fill="#fff"/>
<text x="336.8" y="395.1" font-size="8" text-anchor="end" fill="#222">2</text>
<rect x="330.4" y="346.2" width="8.6" height="7" fill="#fff"/>
<text x="336.8" y="352.7" font-size="8" text-anchor="end" fill="#222">3</text>
<rect x="330.4" y="303.8" width="8.6" height="7" fill="#fff"/>
<text x="336.8" y="310.3" font-size="8" text-anchor="end" fill="#222">4</text>
<text x="345.7" y="289.2" font-size="10.6" text-anchor="middle" fill="#111" stroke="#111" stroke-width="0.2">ACC</text>
<text x="384.69" y="297.68" font-size="10.6" text-anchor="start" fill="#111" stroke="#111" stroke-width="0.2">BLCA<tspan font-size="8"> </tspan><tspan font-size="7.3" dy="-5.6">***</tspan></text>
<text x="422.26" y="308.75" font-size="10.6" text-anchor="start" fill="#111" stroke="#111" stroke-width="0.2">BRCA<tspan font-size="8"> </tspan><tspan font-size="7.3" dy="-5.6">***</tspan></text>
<text x="457.07" y="326.75" font-size="10.6" text-anchor="start" fill="#111" stroke="#111" stroke-width="0.2">CESC</text>
<text x="487.86" y="351.04" font-size="10.6" text-anchor="start" fill="#111" stroke="#111" stroke-width="0.2">CHOL<tspan font-size="8"> </tspan><tspan font-size="7.3" dy="-5.6">***</tspan></text>
<text x="513.5" y="380.73" font-size="10.6" text-anchor="start" fill="#111" stroke="#111" stroke-width="0.2">COAD<tspan font-size="8"> </tspan><tspan font-size="7.3" dy="-5.6">***</tspan></text>
<text x="533.08" y="414.75" font-size="10.6" text-anchor="start" fill="#111" stroke="#111" stroke-width="0.2">DLBC</text>
<text x="545.89" y="451.88" font-size="10.6" text-anchor="start" fill="#111" stroke="#111" stroke-width="0.2">ESCA<tspan font-size="8"> </tspan><tspan font-size="7.3" dy="-5.6">***</tspan></text>
<text x="551.47" y="490.77" font-size="10.6" text-anchor="start" fill="#111" stroke="#111" stroke-width="0.2">GBM<tspan font-size="8"> </tspan><tspan font-size="7.3" dy="-5.6">***</tspan></text>
<text x="549.6" y="530.01" font-size="10.6" text-anchor="start" fill="#111" stroke="#111" stroke-width="0.2">HNSC<tspan font-size="8"> </tspan><tspan font-size="7.3" dy="-5.6">***</tspan></text>
<text x="540.37" y="568.19" font-size="10.6" text-anchor="start" fill="#111" stroke="#111" stroke-width="0.2">KICH</text>
<text x="524.1" y="603.93" font-size="10.6" text-anchor="start" fill="#111" stroke="#111" stroke-width="0.2">KIRC<tspan font-size="8"> </tspan><tspan font-size="7.3" dy="-5.6">***</tspan></text>
<text x="501.38" y="635.93" font-size="10.6" text-anchor="start" fill="#111" stroke="#111" stroke-width="0.2">KIRP<tspan font-size="8"> </tspan><tspan font-size="7.3" dy="-5.6">***</tspan></text>
<text x="473.04" y="663.04" font-size="10.6" text-anchor="start" fill="#111" stroke="#111" stroke-width="0.2">LAML</text>
<text x="440.09" y="684.28" font-size="10.6" text-anchor="start" fill="#111" stroke="#111" stroke-width="0.2">LGG</text>
<text x="403.74" y="698.88" font-size="10.6" text-anchor="start" fill="#111" stroke="#111" stroke-width="0.2">LIHC<tspan font-size="8"> </tspan><tspan font-size="7.3" dy="-5.6">***</tspan></text>
<text x="365.28" y="706.31" font-size="10.6" text-anchor="start" fill="#111" stroke="#111" stroke-width="0.2">LUAD<tspan font-size="8"> </tspan><tspan font-size="7.3" dy="-5.6">***</tspan></text>
<text x="326.12" y="706.31" font-size="10.6" text-anchor="end" fill="#111" stroke="#111" stroke-width="0.2"><tspan font-size="7.3" dy="-5.6">***</tspan><tspan dy="5.6" font-size="10.6"> LUSC</tspan></text>
<text x="287.66" y="698.88" font-size="10.6" text-anchor="end" fill="#111" stroke="#111" stroke-width="0.2">MESO</text>
<text x="251.31" y="684.28" font-size="10.6" text-anchor="end" fill="#111" stroke="#111" stroke-width="0.2">OV</text>
<text x="218.36" y="663.04" font-size="10.6" text-anchor="end" fill="#111" stroke="#111" stroke-width="0.2">PAAD</text>
<text x="190.02" y="635.93" font-size="10.6" text-anchor="end" fill="#111" stroke="#111" stroke-width="0.2">PCPG</text>
<text x="167.3" y="603.93" font-size="10.6" text-anchor="end" fill="#111" stroke="#111" stroke-width="0.2"><tspan font-size="7.3" dy="-5.6">***</tspan><tspan dy="5.6" font-size="10.6"> PRAD</tspan></text>
<text x="151.03" y="568.19" font-size="10.6" text-anchor="end" fill="#111" stroke="#111" stroke-width="0.2"><tspan font-size="7.3" dy="-5.6">**</tspan><tspan dy="5.6" font-size="10.6"> READ</tspan></text>
<text x="141.8" y="530.01" font-size="10.6" text-anchor="end" fill="#111" stroke="#111" stroke-width="0.2">SARC</text>
<text x="139.93" y="490.77" font-size="10.6" text-anchor="end" fill="#111" stroke="#111" stroke-width="0.2">SKCM</text>
<text x="145.51" y="451.88" font-size="10.6" text-anchor="end" fill="#111" stroke="#111" stroke-width="0.2"><tspan font-size="7.3" dy="-5.6">***</tspan><tspan dy="5.6" font-size="10.6"> STAD</tspan></text>
<text x="158.32" y="414.75" font-size="10.6" text-anchor="end" fill="#111" stroke="#111" stroke-width="0.2">TGCT</text>
<text x="177.9" y="380.73" font-size="10.6" text-anchor="end" fill="#111" stroke="#111" stroke-width="0.2">THCA</text>
<text x="203.54" y="351.04" font-size="10.6" text-anchor="end" fill="#111" stroke="#111" stroke-width="0.2">THYM</text>
<text x="234.33" y="326.75" font-size="10.6" text-anchor="end" fill="#111" stroke="#111" stroke-width="0.2"><tspan font-size="7.3" dy="-5.6">***</tspan><tspan dy="5.6" font-size="10.6"> UCEC</tspan></text>
<text x="269.14" y="308.75" font-size="10.6" text-anchor="end" fill="#111" stroke="#111" stroke-width="0.2">UCS</text>
<text x="306.71" y="297.68" font-size="10.6" text-anchor="end" fill="#111" stroke="#111" stroke-width="0.2">UVM</text>
<path d="M520.9 285.3H532.8" stroke="#9AA3B0" stroke-width="1.5"/>
<path d="M520.9 300.4H527" stroke="#F2A83A" stroke-width="1.6"/>
<text x="541" y="288.3" font-size="8.3" fill="#222" stroke="#222" stroke-width="0.2">Normal</text>
<text x="541" y="303.5" font-size="8.3" fill="#222" stroke="#222" stroke-width="0.2">Tumor</text>
</g>
<g id="panelC">
<text transform="translate(0.9 773.7) scale(0.94 1)" font-size="28.2" fill="#000">C</text>
<rect x="91.65" y="876.88" width="8.1" height="210.52" fill="none" stroke="#8E2027" stroke-width="1.4"/>
<path d="M95.7 872.01V881.75M93.7 872.01H97.7M93.7 881.75H97.7" stroke="#E8000F" stroke-width="1.25" fill="none"/>
<circle cx="95.7" cy="871.59" r="2.6" fill="none" stroke="#E8000F" stroke-width="1.25"/>
<circle cx="96.3" cy="876.88" r="2.6" fill="none" stroke="#E8000F" stroke-width="1.25"/>
<circle cx="95.4" cy="881.33" r="2.6" fill="none" stroke="#E8000F" stroke-width="1.25"/>
<rect x="105.65" y="1054.03" width="8.1" height="33.37" fill="none" stroke="#3C9C38" stroke-width="1.3"/>
<path d="M109.7 1051.53V1056.53M105.5 1051.53H113.9M105.5 1056.53H113.9" stroke="#178A45" stroke-width="1.1" fill="none"/>
<path d="M109.7 1051.52L113.3 1057.82L106.1 1057.82Z" fill="none" stroke="#178A45" stroke-width="1.3" stroke-linejoin="miter"/>
<path d="M109.7 1049.02L113.3 1055.32L106.1 1055.32Z" fill="none" stroke="#178A45" stroke-width="1.3" stroke-linejoin="miter"/>
<path d="M109.7 1046.51L113.3 1052.81L106.1 1052.81Z" fill="none" stroke="#178A45" stroke-width="1.3" stroke-linejoin="miter"/>
<rect x="129.12" y="852.13" width="8.1" height="235.27" fill="none" stroke="#8E2027" stroke-width="1.4"/>
<path d="M133.17 843.6V860.66M131.17 843.6H135.17M131.17 860.66H135.17" stroke="#E8000F" stroke-width="1.25" fill="none"/>
<circle cx="133.17" cy="841.84" r="2.6" fill="none" stroke="#E8000F" stroke-width="1.25"/>
<circle cx="133.77" cy="854.07" r="2.6" fill="none" stroke="#E8000F" stroke-width="1.25"/>
<circle cx="132.87" cy="858.25" r="2.6" fill="none" stroke="#E8000F" stroke-width="1.25"/>
<rect x="143.12" y="1045.69" width="8.1" height="41.71" fill="none" stroke="#3C9C38" stroke-width="1.3"/>
<path d="M147.17 1040.25V1051.12M142.97 1040.25H151.37M142.97 1051.12H151.37" stroke="#178A45" stroke-width="1.1" fill="none"/>
<path d="M147.17 1047.9L150.77 1054.2L143.57 1054.2Z" fill="none" stroke="#178A45" stroke-width="1.3" stroke-linejoin="miter"/>
<path d="M147.17 1040.39L150.77 1046.69L143.57 1046.69Z" fill="none" stroke="#178A45" stroke-width="1.3" stroke-linejoin="miter"/>
<path d="M147.17 1037.34L150.77 1043.64L143.57 1043.64Z" fill="none" stroke="#178A45" stroke-width="1.3" stroke-linejoin="miter"/>
<rect x="166.59" y="859.36" width="8.1" height="228.04" fill="none" stroke="#8E2027" stroke-width="1.4"/>
<path d="M170.64 851.89V866.83M168.64 851.89H172.64M168.64 866.83H172.64" stroke="#E8000F" stroke-width="1.25" fill="none"/>
<circle cx="170.64" cy="853.52" r="2.6" fill="none" stroke="#E8000F" stroke-width="1.25"/>
<circle cx="171.24" cy="855.74" r="2.6" fill="none" stroke="#E8000F" stroke-width="1.25"/>
<circle cx="170.34" cy="867.42" r="2.6" fill="none" stroke="#E8000F" stroke-width="1.25"/>
<rect x="180.59" y="1039.57" width="8.1" height="47.83" fill="none" stroke="#3C9C38" stroke-width="1.3"/>
<path d="M184.64 1036.65V1042.49M180.44 1036.65H188.84M180.44 1042.49H188.84" stroke="#178A45" stroke-width="1.1" fill="none"/>
<path d="M184.64 1037.61L188.24 1043.91L181.04 1043.91Z" fill="none" stroke="#178A45" stroke-width="1.3" stroke-linejoin="miter"/>
<path d="M184.64 1034.83L188.24 1041.13L181.04 1041.13Z" fill="none" stroke="#178A45" stroke-width="1.3" stroke-linejoin="miter"/>
<path d="M184.64 1031.77L188.24 1038.07L181.04 1038.07Z" fill="none" stroke="#178A45" stroke-width="1.3" stroke-linejoin="miter"/>
<rect x="204.06" y="914.98" width="8.1" height="172.42" fill="none" stroke="#8E2027" stroke-width="1.4"/>
<path d="M208.11 910.25V919.71M206.11 910.25H210.11M206.11 919.71H210.11" stroke="#E8000F" stroke-width="1.25" fill="none"/>
<circle cx="208.11" cy="911.08" r="2.6" fill="none" stroke="#E8000F" stroke-width="1.25"/>
<circle cx="208.71" cy="912.75" r="2.6" fill="none" stroke="#E8000F" stroke-width="1.25"/>
<circle cx="207.81" cy="919.98" r="2.6" fill="none" stroke="#E8000F" stroke-width="1.25"/>
<rect x="218.06" y="1041.51" width="8.1" height="45.89" fill="none" stroke="#3C9C38" stroke-width="1.3"/>
<path d="M222.11 1037.14V1045.88M217.91 1037.14H226.31M217.91 1045.88H226.31" stroke="#178A45" stroke-width="1.1" fill="none"/>
<path d="M222.11 1040.39L225.71 1046.69L218.51 1046.69Z" fill="none" stroke="#178A45" stroke-width="1.3" stroke-linejoin="miter"/>
<path d="M222.11 1037.34L225.71 1043.64L218.51 1043.64Z" fill="none" stroke="#178A45" stroke-width="1.3" stroke-linejoin="miter"/>
<path d="M222.11 1031.77L225.71 1038.07L218.51 1038.07Z" fill="none" stroke="#178A45" stroke-width="1.3" stroke-linejoin="miter"/>
<rect x="241.53" y="941.4" width="8.1" height="146" fill="none" stroke="#8E2027" stroke-width="1.4"/>
<path d="M245.58 935.83V946.97M243.58 935.83H247.58M243.58 946.97H247.58" stroke="#E8000F" stroke-width="1.25" fill="none"/>
<circle cx="245.58" cy="936.11" r="2.6" fill="none" stroke="#E8000F" stroke-width="1.25"/>
<circle cx="246.18" cy="938.34" r="2.6" fill="none" stroke="#E8000F" stroke-width="1.25"/>
<circle cx="245.28" cy="946.68" r="2.6" fill="none" stroke="#E8000F" stroke-width="1.25"/>
<rect x="255.53" y="1056.25" width="8.1" height="31.15" fill="none" stroke="#3C9C38" stroke-width="1.3"/>
<path d="M259.58 1053.74V1058.76M255.38 1053.74H263.78M255.38 1058.76H263.78" stroke="#178A45" stroke-width="1.1" fill="none"/>
<path d="M259.58 1053.47L263.18 1059.77L255.98 1059.77Z" fill="none" stroke="#178A45" stroke-width="1.3" stroke-linejoin="miter"/>
<path d="M259.58 1051.24L263.18 1057.54L255.98 1057.54Z" fill="none" stroke="#178A45" stroke-width="1.3" stroke-linejoin="miter"/>
<path d="M259.58 1048.46L263.18 1054.76L255.98 1054.76Z" fill="none" stroke="#178A45" stroke-width="1.3" stroke-linejoin="miter"/>
<rect x="279" y="933.89" width="8.1" height="153.51" fill="none" stroke="#8E2027" stroke-width="1.4"/>
<path d="M283.05 930.52V937.26M281.05 930.52H285.05M281.05 937.26H285.05" stroke="#E8000F" stroke-width="1.25" fill="none"/>
<circle cx="283.05" cy="928.88" r="2.6" fill="none" stroke="#E8000F" stroke-width="1.25"/>
<circle cx="283.65" cy="933.05" r="2.6" fill="none" stroke="#E8000F" stroke-width="1.25"/>
<circle cx="282.75" cy="935.56" r="2.6" fill="none" stroke="#E8000F" stroke-width="1.25"/>
<rect x="293" y="1042.9" width="8.1" height="44.5" fill="none" stroke="#3C9C38" stroke-width="1.3"/>
<path d="M297.05 1037V1048.81M292.85 1037H301.25M292.85 1048.81H301.25" stroke="#178A45" stroke-width="1.1" fill="none"/>
<path d="M297.05 1043.18L300.65 1049.48L293.45 1049.48Z" fill="none" stroke="#178A45" stroke-width="1.3" stroke-linejoin="miter"/>
<path d="M297.05 1040.12L300.65 1046.42L293.45 1046.42Z" fill="none" stroke="#178A45" stroke-width="1.3" stroke-linejoin="miter"/>
<path d="M297.05 1031.77L300.65 1038.07L293.45 1038.07Z" fill="none" stroke="#178A45" stroke-width="1.3" stroke-linejoin="miter"/>
<rect x="316.47" y="937.5" width="8.1" height="149.9" fill="none" stroke="#8E2027" stroke-width="1.4"/>
<path d="M320.52 936.39V938.62M318.52 936.39H322.52M318.52 938.62H322.52" stroke="#E8000F" stroke-width="1.25" fill="none"/>
<circle cx="320.52" cy="936.39" r="2.6" fill="none" stroke="#E8000F" stroke-width="1.25"/>
<circle cx="321.12" cy="937.5" r="2.6" fill="none" stroke="#E8000F" stroke-width="1.25"/>
<circle cx="320.22" cy="938.62" r="2.6" fill="none" stroke="#E8000F" stroke-width="1.25"/>
<rect x="330.47" y="1049.58" width="8.1" height="37.82" fill="none" stroke="#3C9C38" stroke-width="1.3"/>
<path d="M334.52 1045.66V1053.5M330.32 1045.66H338.72M330.32 1053.5H338.72" stroke="#178A45" stroke-width="1.1" fill="none"/>
<path d="M334.52 1048.74L338.12 1055.04L330.92 1055.04Z" fill="none" stroke="#178A45" stroke-width="1.3" stroke-linejoin="miter"/>
<path d="M334.52 1045.68L338.12 1051.98L330.92 1051.98Z" fill="none" stroke="#178A45" stroke-width="1.3" stroke-linejoin="miter"/>
<path d="M334.52 1040.95L338.12 1047.25L330.92 1047.25Z" fill="none" stroke="#178A45" stroke-width="1.3" stroke-linejoin="miter"/>
<rect x="353.94" y="882.44" width="8.1" height="204.96" fill="none" stroke="#8E2027" stroke-width="1.4"/>
<path d="M357.99 870.55V894.33M355.99 870.55H359.99M355.99 894.33H359.99" stroke="#E8000F" stroke-width="1.25" fill="none"/>
<circle cx="357.99" cy="874.38" r="2.6" fill="none" stroke="#E8000F" stroke-width="1.25"/>
<circle cx="358.59" cy="875.49" r="2.6" fill="none" stroke="#E8000F" stroke-width="1.25"/>
<circle cx="357.69" cy="895.51" r="2.6" fill="none" stroke="#E8000F" stroke-width="1.25"/>
<rect x="367.94" y="1038.73" width="8.1" height="48.67" fill="none" stroke="#3C9C38" stroke-width="1.3"/>
<path d="M371.99 1036.92V1040.54M367.79 1036.92H376.19M367.79 1040.54H376.19" stroke="#178A45" stroke-width="1.1" fill="none"/>
<path d="M371.99 1036.22L375.59 1042.52L368.39 1042.52Z" fill="none" stroke="#178A45" stroke-width="1.3" stroke-linejoin="miter"/>
<path d="M371.99 1034.55L375.59 1040.85L368.39 1040.85Z" fill="none" stroke="#178A45" stroke-width="1.3" stroke-linejoin="miter"/>
<path d="M371.99 1032.61L375.59 1038.91L368.39 1038.91Z" fill="none" stroke="#178A45" stroke-width="1.3" stroke-linejoin="miter"/>
<rect x="391.41" y="900.52" width="8.1" height="186.88" fill="none" stroke="#8E2027" stroke-width="1.4"/>
<path d="M395.46 896.72V904.31M393.46 896.72H397.46M393.46 904.31H397.46" stroke="#E8000F" stroke-width="1.25" fill="none"/>
<circle cx="395.46" cy="895.79" r="2.6" fill="none" stroke="#E8000F" stroke-width="1.25"/>
<circle cx="396.06" cy="900.52" r="2.6" fill="none" stroke="#E8000F" stroke-width="1.25"/>
<circle cx="395.16" cy="903.3" r="2.6" fill="none" stroke="#E8000F" stroke-width="1.25"/>
<rect x="405.41" y="1036.79" width="8.1" height="50.61" fill="none" stroke="#3C9C38" stroke-width="1.3"/>
<path d="M409.46 1031.77V1041.8M405.26 1031.77H413.66M405.26 1041.8H413.66" stroke="#178A45" stroke-width="1.1" fill="none"/>
<path d="M409.46 1037.34L413.06 1043.64L405.86 1043.64Z" fill="none" stroke="#178A45" stroke-width="1.3" stroke-linejoin="miter"/>
<path d="M409.46 1031.77L413.06 1038.07L405.86 1038.07Z" fill="none" stroke="#178A45" stroke-width="1.3" stroke-linejoin="miter"/>
<path d="M409.46 1027.32L413.06 1033.62L405.86 1033.62Z" fill="none" stroke="#178A45" stroke-width="1.3" stroke-linejoin="miter"/>
<rect x="428.88" y="889.67" width="8.1" height="197.73" fill="none" stroke="#8E2027" stroke-width="1.4"/>
<path d="M432.93 886.57V892.77M430.93 886.57H434.93M430.93 892.77H434.93" stroke="#E8000F" stroke-width="1.25" fill="none"/>
<circle cx="432.93" cy="885.5" r="2.6" fill="none" stroke="#E8000F" stroke-width="1.25"/>
<circle cx="433.53" cy="889.39" r="2.6" fill="none" stroke="#E8000F" stroke-width="1.25"/>
<circle cx="432.63" cy="891.62" r="2.6" fill="none" stroke="#E8000F" stroke-width="1.25"/>
<rect x="442.88" y="1041.79" width="8.1" height="45.61" fill="none" stroke="#3C9C38" stroke-width="1.3"/>
<path d="M446.93 1039.7V1043.88M442.73 1039.7H451.13M442.73 1043.88H451.13" stroke="#178A45" stroke-width="1.1" fill="none"/>
<path d="M446.93 1039.56L450.53 1045.86L443.33 1045.86Z" fill="none" stroke="#178A45" stroke-width="1.3" stroke-linejoin="miter"/>
<path d="M446.93 1037.61L450.53 1043.91L443.33 1043.91Z" fill="none" stroke="#178A45" stroke-width="1.3" stroke-linejoin="miter"/>
<path d="M446.93 1035.39L450.53 1041.69L443.33 1041.69Z" fill="none" stroke="#178A45" stroke-width="1.3" stroke-linejoin="miter"/>
<rect x="466.35" y="910.25" width="8.1" height="177.15" fill="none" stroke="#8E2027" stroke-width="1.4"/>
<path d="M470.4 891.62V928.88M468.4 891.62H472.4M468.4 928.88H472.4" stroke="#E8000F" stroke-width="1.25" fill="none"/>
<circle cx="470.4" cy="896.35" r="2.6" fill="none" stroke="#E8000F" stroke-width="1.25"/>
<circle cx="471" cy="901.35" r="2.6" fill="none" stroke="#E8000F" stroke-width="1.25"/>
<circle cx="470.1" cy="930.83" r="2.6" fill="none" stroke="#E8000F" stroke-width="1.25"/>
<rect x="480.35" y="1035.4" width="8.1" height="52" fill="none" stroke="#3C9C38" stroke-width="1.3"/>
<path d="M484.4 1032.89V1037.9M480.2 1032.89H488.6M480.2 1037.9H488.6" stroke="#178A45" stroke-width="1.1" fill="none"/>
<path d="M484.4 1033.44L488 1039.74L480.8 1039.74Z" fill="none" stroke="#178A45" stroke-width="1.3" stroke-linejoin="miter"/>
<path d="M484.4 1031.22L488 1037.52L480.8 1037.52Z" fill="none" stroke="#178A45" stroke-width="1.3" stroke-linejoin="miter"/>
<path d="M484.4 1028.44L488 1034.74L480.8 1034.74Z" fill="none" stroke="#178A45" stroke-width="1.3" stroke-linejoin="miter"/>
<rect x="503.82" y="864.92" width="8.1" height="222.48" fill="none" stroke="#8E2027" stroke-width="1.4"/>
<path d="M507.87 859.55V870.29M505.87 859.55H509.87M505.87 870.29H509.87" stroke="#E8000F" stroke-width="1.25" fill="none"/>
<circle cx="507.87" cy="858.52" r="2.6" fill="none" stroke="#E8000F" stroke-width="1.25"/>
<circle cx="508.47" cy="865.48" r="2.6" fill="none" stroke="#E8000F" stroke-width="1.25"/>
<circle cx="507.57" cy="869.09" r="2.6" fill="none" stroke="#E8000F" stroke-width="1.25"/>
<rect x="517.82" y="1044.57" width="8.1" height="42.83" fill="none" stroke="#3C9C38" stroke-width="1.3"/>
<path d="M521.87 1040.96V1048.19M517.67 1040.96H526.07M517.67 1048.19H526.07" stroke="#178A45" stroke-width="1.1" fill="none"/>
<path d="M521.87 1044.01L525.47 1050.31L518.27 1050.31Z" fill="none" stroke="#178A45" stroke-width="1.3" stroke-linejoin="miter"/>
<path d="M521.87 1040.39L525.47 1046.69L518.27 1046.69Z" fill="none" stroke="#178A45" stroke-width="1.3" stroke-linejoin="miter"/>
<path d="M521.87 1036.78L525.47 1043.08L518.27 1043.08Z" fill="none" stroke="#178A45" stroke-width="1.3" stroke-linejoin="miter"/>
<rect x="541.29" y="855.74" width="8.1" height="231.66" fill="none" stroke="#8E2027" stroke-width="1.4"/>
<path d="M545.34 842.49V868.99M543.34 842.49H547.34M543.34 868.99H547.34" stroke="#E8000F" stroke-width="1.25" fill="none"/>
<circle cx="545.34" cy="840.45" r="2.6" fill="none" stroke="#E8000F" stroke-width="1.25"/>
<circle cx="545.94" cy="861.03" r="2.6" fill="none" stroke="#E8000F" stroke-width="1.25"/>
<circle cx="545.04" cy="865.2" r="2.6" fill="none" stroke="#E8000F" stroke-width="1.25"/>
<rect x="555.29" y="1042.35" width="8.1" height="45.05" fill="none" stroke="#3C9C38" stroke-width="1.3"/>
<path d="M559.34 1039.29V1045.41M555.14 1039.29H563.54M555.14 1045.41H563.54" stroke="#178A45" stroke-width="1.1" fill="none"/>
<path d="M559.34 1041.23L562.94 1047.53L555.74 1047.53Z" fill="none" stroke="#178A45" stroke-width="1.3" stroke-linejoin="miter"/>
<path d="M559.34 1038.17L562.94 1044.47L555.74 1044.47Z" fill="none" stroke="#178A45" stroke-width="1.3" stroke-linejoin="miter"/>
<path d="M559.34 1035.11L562.94 1041.41L555.74 1041.41Z" fill="none" stroke="#178A45" stroke-width="1.3" stroke-linejoin="miter"/>
<rect x="578.76" y="935.84" width="8.1" height="151.56" fill="none" stroke="#8E2027" stroke-width="1.4"/>
<path d="M582.81 923.51V948.16M580.81 923.51H584.81M580.81 948.16H584.81" stroke="#E8000F" stroke-width="1.25" fill="none"/>
<circle cx="582.81" cy="923.88" r="2.6" fill="none" stroke="#E8000F" stroke-width="1.25"/>
<circle cx="583.41" cy="933.61" r="2.6" fill="none" stroke="#E8000F" stroke-width="1.25"/>
<circle cx="582.51" cy="948.35" r="2.6" fill="none" stroke="#E8000F" stroke-width="1.25"/>
<rect x="592.76" y="1039.01" width="8.1" height="48.39" fill="none" stroke="#3C9C38" stroke-width="1.3"/>
<path d="M596.81 1036.78V1041.24M592.61 1036.78H601.01M592.61 1041.24H601.01" stroke="#178A45" stroke-width="1.1" fill="none"/>
<path d="M596.81 1036.78L600.41 1043.08L593.21 1043.08Z" fill="none" stroke="#178A45" stroke-width="1.3" stroke-linejoin="miter"/>
<path d="M596.81 1034.83L600.41 1041.13L593.21 1041.13Z" fill="none" stroke="#178A45" stroke-width="1.3" stroke-linejoin="miter"/>
<path d="M596.81 1032.33L600.41 1038.63L593.21 1038.63Z" fill="none" stroke="#178A45" stroke-width="1.3" stroke-linejoin="miter"/>
<rect x="616.23" y="905.52" width="8.1" height="181.88" fill="none" stroke="#8E2027" stroke-width="1.4"/>
<path d="M620.28 895.9V915.14M618.28 895.9H622.28M618.28 915.14H622.28" stroke="#E8000F" stroke-width="1.25" fill="none"/>
<circle cx="620.28" cy="898.29" r="2.6" fill="none" stroke="#E8000F" stroke-width="1.25"/>
<circle cx="620.88" cy="901.63" r="2.6" fill="none" stroke="#E8000F" stroke-width="1.25"/>
<circle cx="619.98" cy="916.37" r="2.6" fill="none" stroke="#E8000F" stroke-width="1.25"/>
<rect x="630.23" y="1050.69" width="8.1" height="36.71" fill="none" stroke="#3C9C38" stroke-width="1.3"/>
<path d="M634.28 1048.05V1053.33M630.08 1048.05H638.48M630.08 1053.33H638.48" stroke="#178A45" stroke-width="1.1" fill="none"/>
<path d="M634.28 1049.02L637.88 1055.32L630.68 1055.32Z" fill="none" stroke="#178A45" stroke-width="1.3" stroke-linejoin="miter"/>
<path d="M634.28 1046.51L637.88 1052.81L630.68 1052.81Z" fill="none" stroke="#178A45" stroke-width="1.3" stroke-linejoin="miter"/>
<path d="M634.28 1043.73L637.88 1050.03L630.68 1050.03Z" fill="none" stroke="#178A45" stroke-width="1.3" stroke-linejoin="miter"/>
<rect x="653.7" y="941.95" width="8.1" height="145.45" fill="none" stroke="#8E2027" stroke-width="1.4"/>
<path d="M657.75 938.52V945.39M655.75 938.52H659.75M655.75 945.39H659.75" stroke="#E8000F" stroke-width="1.25" fill="none"/>
<circle cx="657.75" cy="938.62" r="2.6" fill="none" stroke="#E8000F" stroke-width="1.25"/>
<circle cx="658.35" cy="940.56" r="2.6" fill="none" stroke="#E8000F" stroke-width="1.25"/>
<circle cx="657.45" cy="945.29" r="2.6" fill="none" stroke="#E8000F" stroke-width="1.25"/>
<rect x="667.7" y="1048.47" width="8.1" height="38.93" fill="none" stroke="#3C9C38" stroke-width="1.3"/>
<path d="M671.75 1045.96V1050.97M667.55 1045.96H675.95M667.55 1050.97H675.95" stroke="#178A45" stroke-width="1.1" fill="none"/>
<path d="M671.75 1046.79L675.35 1053.09L668.15 1053.09Z" fill="none" stroke="#178A45" stroke-width="1.3" stroke-linejoin="miter"/>
<path d="M671.75 1044.29L675.35 1050.59L668.15 1050.59Z" fill="none" stroke="#178A45" stroke-width="1.3" stroke-linejoin="miter"/>
<path d="M671.75 1041.79L675.35 1048.09L668.15 1048.09Z" fill="none" stroke="#178A45" stroke-width="1.3" stroke-linejoin="miter"/>
<path d="M86.6 808.6V1087.4H680.8" fill="none" stroke="#000" stroke-width="1.6"/>
<path d="M75.6 1087.4H86.9" stroke="#000" stroke-width="1.5"/>
<text x="72.3" y="1094.6" font-size="20" text-anchor="end" fill="#000">0</text>
<path d="M75.6 1031.78H86.9" stroke="#000" stroke-width="1.5"/>
<text x="72.3" y="1038.98" font-size="20" text-anchor="end" fill="#000">2</text>
<path d="M75.6 976.16H86.9" stroke="#000" stroke-width="1.5"/>
<text x="72.3" y="983.36" font-size="20" text-anchor="end" fill="#000">4</text>
<path d="M75.6 920.54H86.9" stroke="#000" stroke-width="1.5"/>
<text x="72.3" y="927.74" font-size="20" text-anchor="end" fill="#000">6</text>
<path d="M75.6 864.92H86.9" stroke="#000" stroke-width="1.5"/>
<text x="72.3" y="872.12" font-size="20" text-anchor="end" fill="#000">8</text>
<path d="M75.6 809.3H86.9" stroke="#000" stroke-width="1.5"/>
<text x="72.3" y="816.5" font-size="20" text-anchor="end" fill="#000">10</text>
<path d="M102.5 1087.4V1098.1" stroke="#000" stroke-width="1.5"/>
<text transform="translate(105.4 1115.2) rotate(-45)" font-size="15" text-anchor="end" fill="#000">UM-UC-3</text>
<path d="M139.97 1087.4V1098.1" stroke="#000" stroke-width="1.5"/>
<text transform="translate(142.87 1115.2) rotate(-45)" font-size="15" text-anchor="end" fill="#000">MDA-MB-468</text>
<path d="M177.44 1087.4V1098.1" stroke="#000" stroke-width="1.5"/>
<text transform="translate(180.34 1115.2) rotate(-45)" font-size="15" text-anchor="end" fill="#000">HuCCT1</text>
<path d="M214.91 1087.4V1098.1" stroke="#000" stroke-width="1.5"/>
<text transform="translate(217.81 1115.2) rotate(-45)" font-size="15" text-anchor="end" fill="#000">HCT116</text>
<path d="M252.38 1087.4V1098.1" stroke="#000" stroke-width="1.5"/>
<text transform="translate(255.28 1115.2) rotate(-45)" font-size="15" text-anchor="end" fill="#000">KYSE-30</text>
<path d="M289.85 1087.4V1098.1" stroke="#000" stroke-width="1.5"/>
<text transform="translate(292.75 1115.2) rotate(-45)" font-size="15" text-anchor="end" fill="#000">U251MG</text>
<path d="M327.32 1087.4V1098.1" stroke="#000" stroke-width="1.5"/>
<text transform="translate(330.22 1115.2) rotate(-45)" font-size="15" text-anchor="end" fill="#000">FaDu</text>
<path d="M364.79 1087.4V1098.1" stroke="#000" stroke-width="1.5"/>
<text transform="translate(367.69 1115.2) rotate(-45)" font-size="15" text-anchor="end" fill="#000">Caki-2</text>
<path d="M402.26 1087.4V1098.1" stroke="#000" stroke-width="1.5"/>
<text transform="translate(405.16 1115.2) rotate(-45)" font-size="15" text-anchor="end" fill="#000">ACHN</text>
<path d="M439.73 1087.4V1098.1" stroke="#000" stroke-width="1.5"/>
<text transform="translate(442.63 1115.2) rotate(-45)" font-size="15" text-anchor="end" fill="#000">HepG2</text>
<path d="M477.2 1087.4V1098.1" stroke="#000" stroke-width="1.5"/>
<text transform="translate(480.1 1115.2) rotate(-45)" font-size="15" text-anchor="end" fill="#000">A549</text>
<path d="M514.67 1087.4V1098.1" stroke="#000" stroke-width="1.5"/>
<text transform="translate(517.57 1115.2) rotate(-45)" font-size="15" text-anchor="end" fill="#000">H226</text>
<path d="M552.14 1087.4V1098.1" stroke="#000" stroke-width="1.5"/>
<text transform="translate(555.04 1115.2) rotate(-45)" font-size="15" text-anchor="end" fill="#000">LNCaP</text>
<path d="M589.61 1087.4V1098.1" stroke="#000" stroke-width="1.5"/>
<text transform="translate(592.51 1115.2) rotate(-45)" font-size="15" text-anchor="end" fill="#000">SW1463</text>
<path d="M627.08 1087.4V1098.1" stroke="#000" stroke-width="1.5"/>
<text transform="translate(629.98 1115.2) rotate(-45)" font-size="15" text-anchor="end" fill="#000">AGS</text>
<path d="M664.55 1087.4V1098.1" stroke="#000" stroke-width="1.5"/>
<text transform="translate(667.45 1115.2) rotate(-45)" font-size="15" text-anchor="end" fill="#000">A375</text>
<text transform="translate(16.6 949.3) rotate(-90)" font-size="16.1" text-anchor="middle" fill="#000">TERT</text>
<text transform="translate(35.4 948.6) rotate(-90)" font-size="16.8" text-anchor="middle" fill="#000">mRNA Relative Expression</text>
<circle cx="110" cy="806.4" r="2.6" fill="none" stroke="#E8000F" stroke-width="1.25"/>
<text x="141.6" y="812.8" font-size="18" fill="#000">Tumor Cell</text>
<path d="M505 802.4L508.7 808.9L501.3 808.9Z" fill="none" stroke="#178A45" stroke-width="1.3"/>
<text x="536.6" y="812.8" font-size="18" fill="#000">Control Cell</text>
</g>
</svg>
</body>
</html>
